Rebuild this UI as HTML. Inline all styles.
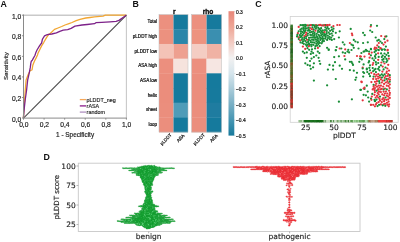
<!DOCTYPE html>
<html><head><meta charset="utf-8"><style>
html,body{margin:0;padding:0;background:#fff;}
body{width:400px;height:242px;overflow:hidden;}
svg{display:block;}
.la{font-family:"Liberation Sans",Arial,sans-serif;font-size:6.7px;fill:#222;stroke:#222;stroke-width:0.18px;}
.lg{font-family:"Liberation Sans",Arial,sans-serif;font-size:5.4px;fill:#222;stroke:#222;stroke-width:0.15px;}
.lb{font-family:"Liberation Sans",Arial,sans-serif;font-size:4.55px;fill:#111;stroke:#111;stroke-width:0.2px;}
.bt{font-family:"Liberation Sans",Arial,sans-serif;font-size:6.6px;font-weight:bold;fill:#111;stroke:#111;stroke-width:0.35px;}
.lc{font-family:"DejaVu Sans",sans-serif;font-size:7.5px;fill:#1e1e1e;stroke:#1e1e1e;stroke-width:0.15px;}
.pl{font-family:"Liberation Sans",Arial,sans-serif;font-size:8.8px;font-weight:bold;fill:#111;}
</style></head><body>
<svg width="400" height="242" viewBox="0 0 400 242">
<rect width="400" height="242" fill="#fff"/>
<line x1="23.5" y1="15.2" x2="127.0" y2="15.2" stroke="#c9c9c9" stroke-width="1.4"/>
<line x1="126.4" y1="15.2" x2="126.4" y2="118.1" stroke="#c9c9c9" stroke-width="1.1"/>
<line x1="23.5" y1="118.1" x2="126.4" y2="15.2" stroke="#4a4a4a" stroke-width="1.1"/>
<polyline fill="none" stroke="#f2a632" stroke-width="1.3" stroke-linejoin="round" points="23.4,118 24,108 24.6,100 25.3,90 26.1,80 28.2,74.6 29.5,72 30,70.6 32,70 32.8,65.3 34.4,61.2 36,58.1 37.5,55 38,53.2 40.2,48.8 41.6,45.9 43.8,42.3 46.5,37.6 48.7,34.4 50.3,33.5 54.5,29.4 58,28 61.7,26.5 65,25 69,23.6 72,22.5 76.2,20.7 80,19.4 85.8,18 90,17.5 94.5,16.9 100,16.4 103.1,16.1 105.3,15.2 126.3,15.2"/>
<polyline fill="none" stroke="#7d2289" stroke-width="1.3" stroke-linejoin="round" points="23.4,118 24.3,108 25.2,100 26.6,90 27.7,79.8 29.2,73.1 30.3,67.4 30.8,63.3 31.3,61.2 32.3,60.2 33.4,58.1 34.9,55.5 35.9,52.4 37,50 39.5,45.9 41.6,43 42.4,39.4 43.6,37.3 44.5,35.9 47.3,34.7 51.8,34 56.4,32.9 59.8,31.3 63.2,30.2 67.7,29.7 71.1,28.4 75,26.1 82,25 87.2,24.5 94.5,23.7 95.9,22.7 101.7,22.3 110,21.8 116.1,21.3 119,20.4 123.4,17.2 126.2,15.2"/>
<line x1="23.5" y1="14.5" x2="23.5" y2="118.1" stroke="#8a8a8a" stroke-width="1"/>
<line x1="23.5" y1="118.1" x2="126.9" y2="118.1" stroke="#8a8a8a" stroke-width="1"/>
<line x1="21.9" y1="118.1" x2="23.5" y2="118.1" stroke="#777" stroke-width="0.8"/>
<line x1="23.5" y1="118.1" x2="23.5" y2="119.69999999999999" stroke="#777" stroke-width="0.8"/>
<text x="21.3" y="121.5" text-anchor="end" class="la">0,0</text>
<text x="23.8" y="127.4" text-anchor="middle" class="la">0,0</text>
<line x1="21.9" y1="97.52" x2="23.5" y2="97.52" stroke="#777" stroke-width="0.8"/>
<line x1="44.08" y1="118.1" x2="44.08" y2="119.69999999999999" stroke="#777" stroke-width="0.8"/>
<text x="21.3" y="100.92" text-anchor="end" class="la">0,2</text>
<text x="44.38" y="127.4" text-anchor="middle" class="la">0,2</text>
<line x1="21.9" y1="76.94" x2="23.5" y2="76.94" stroke="#777" stroke-width="0.8"/>
<line x1="64.66" y1="118.1" x2="64.66" y2="119.69999999999999" stroke="#777" stroke-width="0.8"/>
<text x="21.3" y="80.34" text-anchor="end" class="la">0,4</text>
<text x="64.96" y="127.4" text-anchor="middle" class="la">0,4</text>
<line x1="21.9" y1="56.36" x2="23.5" y2="56.36" stroke="#777" stroke-width="0.8"/>
<line x1="85.24" y1="118.1" x2="85.24" y2="119.69999999999999" stroke="#777" stroke-width="0.8"/>
<text x="21.3" y="59.76" text-anchor="end" class="la">0,6</text>
<text x="85.54" y="127.4" text-anchor="middle" class="la">0,6</text>
<line x1="21.9" y1="35.78" x2="23.5" y2="35.78" stroke="#777" stroke-width="0.8"/>
<line x1="105.82" y1="118.1" x2="105.82" y2="119.69999999999999" stroke="#777" stroke-width="0.8"/>
<text x="21.3" y="39.18" text-anchor="end" class="la">0,8</text>
<text x="106.12" y="127.4" text-anchor="middle" class="la">0,8</text>
<line x1="21.9" y1="15.2" x2="23.5" y2="15.2" stroke="#777" stroke-width="0.8"/>
<line x1="126.4" y1="118.1" x2="126.4" y2="119.69999999999999" stroke="#777" stroke-width="0.8"/>
<text x="21.3" y="18.6" text-anchor="end" class="la">1,0</text>
<text x="126.7" y="127.4" text-anchor="middle" class="la">1,0</text>
<text x="75.1" y="137.1" text-anchor="middle" class="la" style="font-size:6.4px">1 - Specificity</text>
<text transform="translate(8.4,66.1) rotate(-90)" text-anchor="middle" class="la" style="font-size:6.2px">Sensitivity</text>
<line x1="79.8" y1="99.6" x2="86" y2="99.6" stroke="#f6a85a" stroke-width="1.3"/>
<text x="86.6" y="101.5" class="lg">pLDDT_neg</text>
<line x1="79.8" y1="105.9" x2="86" y2="105.9" stroke="#8b1a8b" stroke-width="1.3"/>
<text x="86.6" y="107.8" class="lg">rASA</text>
<line x1="79.8" y1="112.1" x2="86" y2="112.1" stroke="#b090c0" stroke-width="1.3"/>
<text x="86.6" y="114" class="lg">random</text>
<text x="0.6" y="6.6" class="pl">A</text>
<rect x="159.0" y="14.6" width="14.5" height="15.03" fill="#ec907f"/>
<rect x="191.6" y="14.6" width="15" height="15.03" fill="#ec907f"/>
<rect x="173.5" y="14.6" width="14.5" height="15.03" fill="#167a9d"/>
<rect x="206.6" y="14.6" width="15" height="15.03" fill="#167a9d"/>
<text x="157.0" y="23.14" text-anchor="end" class="lb">Total</text>
<rect x="159.0" y="29.28" width="14.5" height="15.03" fill="#ec917f"/>
<rect x="191.6" y="29.28" width="15" height="15.03" fill="#ed937f"/>
<rect x="173.5" y="29.28" width="14.5" height="15.03" fill="#2a86a9"/>
<rect x="206.6" y="29.28" width="15" height="15.03" fill="#3a8fb0"/>
<text x="157.0" y="37.82" text-anchor="end" class="lb">pLDDT high</text>
<rect x="159.0" y="43.96" width="14.5" height="15.03" fill="#f4c3b7"/>
<rect x="191.6" y="43.96" width="15" height="15.03" fill="#f4cdc3"/>
<rect x="173.5" y="43.96" width="14.5" height="15.03" fill="#eea090"/>
<rect x="206.6" y="43.96" width="15" height="15.03" fill="#f0b2a4"/>
<text x="157.0" y="52.5" text-anchor="end" class="lb">pLDDT low</text>
<rect x="159.0" y="58.64" width="14.5" height="15.03" fill="#ec8f7e"/>
<rect x="191.6" y="58.64" width="15" height="15.03" fill="#ec8f7e"/>
<rect x="173.5" y="58.64" width="14.5" height="15.03" fill="#f6e3dd"/>
<rect x="206.6" y="58.64" width="15" height="15.03" fill="#f6e6e2"/>
<text x="157.0" y="67.18" text-anchor="end" class="lb">ASA high</text>
<rect x="159.0" y="73.32" width="14.5" height="15.03" fill="#eb8d7c"/>
<rect x="191.6" y="73.32" width="15" height="15.03" fill="#eb8d7c"/>
<rect x="173.5" y="73.32" width="14.5" height="15.03" fill="#157a9d"/>
<rect x="206.6" y="73.32" width="15" height="15.03" fill="#157a9d"/>
<text x="157.0" y="81.86" text-anchor="end" class="lb">ASA low</text>
<rect x="159.0" y="88" width="14.5" height="15.03" fill="#eb8d7c"/>
<rect x="191.6" y="88" width="15" height="15.03" fill="#eb8d7c"/>
<rect x="173.5" y="88" width="14.5" height="15.03" fill="#157a9d"/>
<rect x="206.6" y="88" width="15" height="15.03" fill="#167a9d"/>
<text x="157.0" y="96.54" text-anchor="end" class="lb">helix</text>
<rect x="159.0" y="102.68" width="14.5" height="15.03" fill="#eb8e7d"/>
<rect x="191.6" y="102.68" width="15" height="15.03" fill="#eb8e7d"/>
<rect x="173.5" y="102.68" width="14.5" height="15.03" fill="#4f9cb8"/>
<rect x="206.6" y="102.68" width="15" height="15.03" fill="#1f7ca0"/>
<text x="157.0" y="111.22" text-anchor="end" class="lb">sheet</text>
<rect x="159.0" y="117.36" width="14.5" height="15.03" fill="#eb8e7d"/>
<rect x="191.6" y="117.36" width="15" height="15.03" fill="#eb8e7d"/>
<rect x="173.5" y="117.36" width="14.5" height="15.03" fill="#157a9d"/>
<rect x="206.6" y="117.36" width="15" height="15.03" fill="#157a9d"/>
<text x="157.0" y="125.9" text-anchor="end" class="lb">loop</text>
<rect x="159.0" y="14.6" width="29.0" height="117.44" fill="none" stroke="#bdbdbd" stroke-width="0.5"/>
<rect x="191.6" y="14.6" width="30.0" height="117.44" fill="none" stroke="#bdbdbd" stroke-width="0.5"/>
<text x="174.4" y="13.6" text-anchor="middle" class="bt">r</text>
<text x="208" y="13.6" text-anchor="middle" class="bt">rho</text>
<text transform="translate(166,139.4) rotate(-45)" text-anchor="middle" dy="1.4" class="lb">pLDDT</text>
<text transform="translate(180.6,138.3) rotate(-45)" text-anchor="middle" dy="1.4" class="lb">ASA</text>
<text transform="translate(199.1,139.4) rotate(-45)" text-anchor="middle" dy="1.4" class="lb">pLDDT</text>
<text transform="translate(213.9,138.3) rotate(-45)" text-anchor="middle" dy="1.4" class="lb">ASA</text>
<defs><linearGradient id="cb" x1="0" y1="0" x2="0" y2="1">
<stop offset="0" stop-color="#e8877a"/>
<stop offset="0.125" stop-color="#eea595"/>
<stop offset="0.25" stop-color="#f3cbc2"/>
<stop offset="0.375" stop-color="#f2f1f1"/>
<stop offset="0.5" stop-color="#d6e5ec"/>
<stop offset="0.625" stop-color="#a9cbd9"/>
<stop offset="0.75" stop-color="#78afc5"/>
<stop offset="0.875" stop-color="#4696b3"/>
<stop offset="1" stop-color="#17799c"/>
</linearGradient></defs>
<rect x="228.5" y="11.2" width="5.8" height="124.4" fill="url(#cb)"/>
<line x1="234.3" y1="11.6" x2="235.4" y2="11.6" stroke="#999" stroke-width="0.4"/>
<text x="236.0" y="13.6" class="lb" style="font-size:4.9px">0.3</text>
<line x1="234.3" y1="27.09" x2="235.4" y2="27.09" stroke="#999" stroke-width="0.4"/>
<text x="236.0" y="29.09" class="lb" style="font-size:4.9px">0.2</text>
<line x1="234.3" y1="42.58" x2="235.4" y2="42.58" stroke="#999" stroke-width="0.4"/>
<text x="236.0" y="44.58" class="lb" style="font-size:4.9px">0.1</text>
<line x1="234.3" y1="58.07" x2="235.4" y2="58.07" stroke="#999" stroke-width="0.4"/>
<text x="236.0" y="60.07" class="lb" style="font-size:4.9px">0.0</text>
<line x1="234.3" y1="73.56" x2="235.4" y2="73.56" stroke="#999" stroke-width="0.4"/>
<text x="236.0" y="75.56" class="lb" style="font-size:4.9px">−0.1</text>
<line x1="234.3" y1="89.05" x2="235.4" y2="89.05" stroke="#999" stroke-width="0.4"/>
<text x="236.0" y="91.05" class="lb" style="font-size:4.9px">−0.2</text>
<line x1="234.3" y1="104.54" x2="235.4" y2="104.54" stroke="#999" stroke-width="0.4"/>
<text x="236.0" y="106.54" class="lb" style="font-size:4.9px">−0.3</text>
<line x1="234.3" y1="120.03" x2="235.4" y2="120.03" stroke="#999" stroke-width="0.4"/>
<text x="236.0" y="122.03" class="lb" style="font-size:4.9px">−0.4</text>
<line x1="234.3" y1="135.52" x2="235.4" y2="135.52" stroke="#999" stroke-width="0.4"/>
<text x="236.0" y="137.52" class="lb" style="font-size:4.9px">−0.5</text>
<text x="132.6" y="6.8" class="pl">B</text>
<rect x="290.2" y="16.5" width="108" height="105.8" fill="none" stroke="#d0d0d0" stroke-width="0.8"/>
<g><circle cx="306.8" cy="52.4" r="1.12" fill="#178c35"/><circle cx="331.66" cy="33.5" r="1.12" fill="#178c35"/><circle cx="378.13" cy="53.33" r="1.12" fill="#e3333b"/><circle cx="378.2" cy="68.9" r="1.12" fill="#178c35"/><circle cx="374.26" cy="74.13" r="1.12" fill="#e3333b"/><circle cx="339.7" cy="31.3" r="1.12" fill="#178c35"/><circle cx="364.5" cy="88.9" r="1.12" fill="#178c35"/><circle cx="329.83" cy="39.15" r="1.12" fill="#178c35"/><circle cx="387.3" cy="93.5" r="1.12" fill="#e3333b"/><circle cx="303.42" cy="27.28" r="1.12" fill="#178c35"/><circle cx="387.3" cy="60.7" r="1.12" fill="#178c35"/><circle cx="328.7" cy="50" r="1.12" fill="#178c35"/><circle cx="335.8" cy="32.8" r="1.12" fill="#178c35"/><circle cx="369.63" cy="57.65" r="1.12" fill="#e3333b"/><circle cx="349.9" cy="61.8" r="1.12" fill="#178c35"/><circle cx="366.8" cy="69.4" r="1.12" fill="#178c35"/><circle cx="302.9" cy="51.6" r="1.12" fill="#178c35"/><circle cx="361.8" cy="59.4" r="1.12" fill="#178c35"/><circle cx="319.43" cy="31.79" r="1.12" fill="#178c35"/><circle cx="324.8" cy="25" r="1.12" fill="#e3333b"/><circle cx="304.5" cy="53.1" r="1.12" fill="#178c35"/><circle cx="321.93" cy="38.6" r="1.12" fill="#178c35"/><circle cx="377.03" cy="81.17" r="1.12" fill="#e3333b"/><circle cx="369.1" cy="61.2" r="1.12" fill="#178c35"/><circle cx="342.8" cy="52.4" r="1.12" fill="#178c35"/><circle cx="389.79" cy="97.96" r="1.12" fill="#e3333b"/><circle cx="376.98" cy="95.97" r="1.12" fill="#e3333b"/><circle cx="304.35" cy="36.08" r="1.12" fill="#e3333b"/><circle cx="314.87" cy="26.9" r="1.12" fill="#178c35"/><circle cx="379.02" cy="91.63" r="1.12" fill="#e3333b"/><circle cx="327.76" cy="35.7" r="1.12" fill="#178c35"/><circle cx="338.9" cy="56.3" r="1.12" fill="#178c35"/><circle cx="319.79" cy="42.95" r="1.12" fill="#178c35"/><circle cx="388.2" cy="78.9" r="1.12" fill="#e3333b"/><circle cx="374.7" cy="90.2" r="1.12" fill="#e3333b"/><circle cx="388.99" cy="70.56" r="1.12" fill="#e3333b"/><circle cx="329.58" cy="24.97" r="1.12" fill="#e3333b"/><circle cx="388.22" cy="74.02" r="1.12" fill="#e3333b"/><circle cx="302.61" cy="32.05" r="1.12" fill="#178c35"/><circle cx="381.09" cy="53.4" r="1.12" fill="#178c35"/><circle cx="307.02" cy="39.82" r="1.12" fill="#e3333b"/><circle cx="306.8" cy="28.28" r="1.12" fill="#178c35"/><circle cx="352.3" cy="63.3" r="1.12" fill="#178c35"/><circle cx="308.93" cy="43.5" r="1.12" fill="#178c35"/><circle cx="377.02" cy="86.7" r="1.12" fill="#e3333b"/><circle cx="319.4" cy="61" r="1.12" fill="#178c35"/><circle cx="386.4" cy="78.9" r="1.12" fill="#178c35"/><circle cx="305.78" cy="44.54" r="1.12" fill="#178c35"/><circle cx="349.9" cy="70.1" r="1.12" fill="#178c35"/><circle cx="385" cy="49.8" r="1.12" fill="#178c35"/><circle cx="384.61" cy="77.79" r="1.12" fill="#e3333b"/><circle cx="363.2" cy="76.6" r="1.12" fill="#178c35"/><circle cx="373.2" cy="63" r="1.12" fill="#e3333b"/><circle cx="331.21" cy="37.56" r="1.12" fill="#178c35"/><circle cx="381.4" cy="62.5" r="1.12" fill="#e3333b"/><circle cx="363.1" cy="43" r="1.12" fill="#178c35"/><circle cx="384.5" cy="63.5" r="1.12" fill="#e3333b"/><circle cx="303.61" cy="25.21" r="1.12" fill="#178c35"/><circle cx="311.89" cy="25.05" r="1.12" fill="#178c35"/><circle cx="370.2" cy="30.5" r="1.12" fill="#178c35"/><circle cx="385.9" cy="91.6" r="1.12" fill="#e3333b"/><circle cx="361.4" cy="81.6" r="1.12" fill="#e3333b"/><circle cx="389.63" cy="88.02" r="1.12" fill="#e3333b"/><circle cx="307.88" cy="33.56" r="1.12" fill="#178c35"/><circle cx="334.2" cy="57.1" r="1.12" fill="#178c35"/><circle cx="369.1" cy="73.9" r="1.12" fill="#178c35"/><circle cx="380" cy="100.7" r="1.12" fill="#e3333b"/><circle cx="364.7" cy="35.2" r="1.12" fill="#178c35"/><circle cx="306.37" cy="25.39" r="1.12" fill="#178c35"/><circle cx="301.05" cy="31.41" r="1.12" fill="#178c35"/><circle cx="386.8" cy="71.6" r="1.12" fill="#e3333b"/><circle cx="369.37" cy="67.86" r="1.12" fill="#178c35"/><circle cx="305.52" cy="30.43" r="1.12" fill="#178c35"/><circle cx="325.38" cy="27.47" r="1.12" fill="#178c35"/><circle cx="374.1" cy="60.3" r="1.12" fill="#178c35"/><circle cx="372.7" cy="64.8" r="1.12" fill="#e3333b"/><circle cx="322.68" cy="40.03" r="1.12" fill="#178c35"/><circle cx="304.82" cy="31.89" r="1.12" fill="#178c35"/><circle cx="316.31" cy="43.86" r="1.12" fill="#178c35"/><circle cx="339.7" cy="48.5" r="1.12" fill="#e3333b"/><circle cx="325.3" cy="38.6" r="1.12" fill="#178c35"/><circle cx="383.2" cy="98" r="1.12" fill="#e3333b"/><circle cx="381.8" cy="102.1" r="1.12" fill="#e3333b"/><circle cx="309.87" cy="30.6" r="1.12" fill="#178c35"/><circle cx="379.85" cy="77.35" r="1.12" fill="#e3333b"/><circle cx="302.88" cy="46.54" r="1.12" fill="#e3333b"/><circle cx="318.6" cy="57.8" r="1.12" fill="#178c35"/><circle cx="357.8" cy="42.3" r="1.12" fill="#178c35"/><circle cx="385.1" cy="42.3" r="1.12" fill="#e3333b"/><circle cx="360.4" cy="89.9" r="1.12" fill="#178c35"/><circle cx="389.94" cy="79.67" r="1.12" fill="#e3333b"/><circle cx="313.1" cy="53.1" r="1.12" fill="#178c35"/><circle cx="380.5" cy="89.4" r="1.12" fill="#e3333b"/><circle cx="333.1" cy="69.6" r="1.12" fill="#178c35"/><circle cx="301.94" cy="39.78" r="1.12" fill="#178c35"/><circle cx="311.5" cy="51.6" r="1.12" fill="#178c35"/><circle cx="386.4" cy="99.8" r="1.12" fill="#e3333b"/><circle cx="314.52" cy="42.67" r="1.12" fill="#178c35"/><circle cx="302.53" cy="34.98" r="1.12" fill="#178c35"/><circle cx="319.4" cy="53.1" r="1.12" fill="#178c35"/><circle cx="371.74" cy="52.52" r="1.12" fill="#e3333b"/><circle cx="371" cy="104.8" r="1.12" fill="#e3333b"/><circle cx="358.5" cy="48.5" r="1.12" fill="#178c35"/><circle cx="388.75" cy="106.28" r="1.12" fill="#e3333b"/><circle cx="327.97" cy="38.09" r="1.12" fill="#178c35"/><circle cx="347.5" cy="51.6" r="1.12" fill="#178c35"/><circle cx="310.34" cy="34.95" r="1.12" fill="#178c35"/><circle cx="371.4" cy="82.1" r="1.12" fill="#e3333b"/><circle cx="383.6" cy="58.9" r="1.12" fill="#178c35"/><circle cx="383.2" cy="75.7" r="1.12" fill="#178c35"/><circle cx="317.93" cy="47.97" r="1.12" fill="#e3333b"/><circle cx="368.2" cy="97.5" r="1.12" fill="#178c35"/><circle cx="316.36" cy="41.36" r="1.12" fill="#178c35"/><circle cx="331.61" cy="27.27" r="1.12" fill="#178c35"/><circle cx="330.07" cy="30.87" r="1.12" fill="#178c35"/><circle cx="386.8" cy="95.7" r="1.12" fill="#e3333b"/><circle cx="373.6" cy="84.8" r="1.12" fill="#178c35"/><circle cx="382" cy="43" r="1.12" fill="#178c35"/><circle cx="353.8" cy="47.8" r="1.12" fill="#178c35"/><circle cx="375.5" cy="58" r="1.12" fill="#178c35"/><circle cx="321.64" cy="43.29" r="1.12" fill="#178c35"/><circle cx="356.2" cy="77.5" r="1.12" fill="#178c35"/><circle cx="373.2" cy="71.2" r="1.12" fill="#178c35"/><circle cx="308.01" cy="30.69" r="1.12" fill="#178c35"/><circle cx="363.6" cy="51.6" r="1.12" fill="#178c35"/><circle cx="302.18" cy="38" r="1.12" fill="#178c35"/><circle cx="375.66" cy="97.52" r="1.12" fill="#e3333b"/><circle cx="318.57" cy="34.85" r="1.12" fill="#178c35"/><circle cx="352.3" cy="35.2" r="1.12" fill="#e3333b"/><circle cx="315.9" cy="28.66" r="1.12" fill="#178c35"/><circle cx="338.9" cy="37.5" r="1.12" fill="#178c35"/><circle cx="317.97" cy="38.77" r="1.12" fill="#178c35"/><circle cx="373.6" cy="76.6" r="1.12" fill="#178c35"/><circle cx="326.81" cy="31" r="1.12" fill="#178c35"/><circle cx="370" cy="76.2" r="1.12" fill="#178c35"/><circle cx="376.26" cy="83.72" r="1.12" fill="#e3333b"/><circle cx="353.8" cy="39.9" r="1.12" fill="#178c35"/><circle cx="385" cy="88.5" r="1.12" fill="#e3333b"/><circle cx="382.3" cy="94.4" r="1.12" fill="#e3333b"/><circle cx="376.17" cy="64.47" r="1.12" fill="#178c35"/><circle cx="333.1" cy="65.7" r="1.12" fill="#178c35"/><circle cx="388.2" cy="83" r="1.12" fill="#e3333b"/><circle cx="370" cy="65.3" r="1.12" fill="#178c35"/><circle cx="303.73" cy="30.58" r="1.12" fill="#178c35"/><circle cx="383.6" cy="91.6" r="1.12" fill="#e3333b"/><circle cx="376.8" cy="90.7" r="1.12" fill="#178c35"/><circle cx="300.86" cy="33.42" r="1.12" fill="#178c35"/><circle cx="313.9" cy="57.1" r="1.12" fill="#178c35"/><circle cx="312.46" cy="27.47" r="1.12" fill="#178c35"/><circle cx="378.6" cy="94.4" r="1.12" fill="#e3333b"/><circle cx="321.25" cy="35.22" r="1.12" fill="#178c35"/><circle cx="378.2" cy="97.5" r="1.12" fill="#e3333b"/><circle cx="366.8" cy="68.5" r="1.12" fill="#178c35"/><circle cx="379.5" cy="87.5" r="1.12" fill="#e3333b"/><circle cx="361.4" cy="53" r="1.12" fill="#178c35"/><circle cx="359.3" cy="61.8" r="1.12" fill="#178c35"/><circle cx="376.54" cy="99.59" r="1.12" fill="#178c35"/><circle cx="308.16" cy="41.89" r="1.12" fill="#178c35"/><circle cx="378.05" cy="76.53" r="1.12" fill="#e3333b"/><circle cx="335.8" cy="79" r="1.12" fill="#178c35"/><circle cx="360.1" cy="56.3" r="1.12" fill="#e3333b"/><circle cx="375.9" cy="54.4" r="1.12" fill="#178c35"/><circle cx="328.79" cy="28.76" r="1.12" fill="#178c35"/><circle cx="335.8" cy="50.3" r="1.12" fill="#178c35"/><circle cx="389.8" cy="77.37" r="1.12" fill="#e3333b"/><circle cx="360.9" cy="56.6" r="1.12" fill="#e3333b"/><circle cx="388.71" cy="55.95" r="1.12" fill="#178c35"/><circle cx="348.3" cy="49.8" r="1.12" fill="#178c35"/><circle cx="384.99" cy="56.9" r="1.12" fill="#178c35"/><circle cx="327.1" cy="39.9" r="1.12" fill="#178c35"/><circle cx="383.6" cy="89.4" r="1.12" fill="#178c35"/><circle cx="298.61" cy="37.4" r="1.12" fill="#e3333b"/><circle cx="305.3" cy="63.3" r="1.12" fill="#178c35"/><circle cx="311.41" cy="46.34" r="1.12" fill="#178c35"/><circle cx="365.9" cy="95.3" r="1.12" fill="#178c35"/><circle cx="318.14" cy="30.35" r="1.12" fill="#178c35"/><circle cx="305.22" cy="48.93" r="1.12" fill="#e3333b"/><circle cx="349.1" cy="52.4" r="1.12" fill="#178c35"/><circle cx="384.5" cy="53.5" r="1.12" fill="#178c35"/><circle cx="382.4" cy="71.62" r="1.12" fill="#e3333b"/><circle cx="345.2" cy="49.3" r="1.12" fill="#e3333b"/><circle cx="389.85" cy="92.98" r="1.12" fill="#e3333b"/><circle cx="315.94" cy="39.54" r="1.12" fill="#178c35"/><circle cx="362.7" cy="100.3" r="1.12" fill="#e3333b"/><circle cx="327.1" cy="85.3" r="1.12" fill="#178c35"/><circle cx="380.9" cy="79.4" r="1.12" fill="#e3333b"/><circle cx="315.81" cy="37.74" r="1.12" fill="#178c35"/><circle cx="384.1" cy="83.9" r="1.12" fill="#e3333b"/><circle cx="388.84" cy="58.7" r="1.12" fill="#e3333b"/><circle cx="374.5" cy="69.8" r="1.12" fill="#178c35"/><circle cx="374.5" cy="52.1" r="1.12" fill="#178c35"/><circle cx="321.7" cy="31.61" r="1.12" fill="#178c35"/><circle cx="383.6" cy="104.4" r="1.12" fill="#e3333b"/><circle cx="350.7" cy="28.9" r="1.12" fill="#178c35"/><circle cx="378.2" cy="89.4" r="1.12" fill="#e3333b"/><circle cx="342" cy="68.8" r="1.12" fill="#178c35"/><circle cx="325.73" cy="36.9" r="1.12" fill="#178c35"/><circle cx="380.4" cy="41.5" r="1.12" fill="#178c35"/><circle cx="302.15" cy="25.2" r="1.12" fill="#178c35"/><circle cx="325.5" cy="25.14" r="1.12" fill="#178c35"/><circle cx="297.84" cy="33.13" r="1.12" fill="#e3333b"/><circle cx="375.7" cy="50.4" r="1.12" fill="#178c35"/><circle cx="374.5" cy="99.8" r="1.12" fill="#178c35"/><circle cx="381.8" cy="88.9" r="1.12" fill="#e3333b"/><circle cx="314.64" cy="34.49" r="1.12" fill="#178c35"/><circle cx="385.1" cy="36.7" r="1.12" fill="#e3333b"/><circle cx="306.09" cy="38.3" r="1.12" fill="#178c35"/><circle cx="307.82" cy="44.67" r="1.12" fill="#178c35"/><circle cx="389.76" cy="75.22" r="1.12" fill="#178c35"/><circle cx="298.79" cy="39.03" r="1.12" fill="#178c35"/><circle cx="318.38" cy="44.09" r="1.12" fill="#178c35"/><circle cx="381.8" cy="49.4" r="1.12" fill="#178c35"/><circle cx="388.2" cy="64.8" r="1.12" fill="#e3333b"/><circle cx="378.82" cy="85.53" r="1.12" fill="#e3333b"/><circle cx="378.8" cy="47" r="1.12" fill="#178c35"/><circle cx="323.64" cy="38.66" r="1.12" fill="#178c35"/><circle cx="351.5" cy="50" r="1.12" fill="#178c35"/><circle cx="323.95" cy="41.06" r="1.12" fill="#178c35"/><circle cx="370.9" cy="104.8" r="1.12" fill="#e3333b"/><circle cx="360.1" cy="58.6" r="1.12" fill="#178c35"/><circle cx="297.04" cy="36.43" r="1.12" fill="#178c35"/><circle cx="303.39" cy="28.95" r="1.12" fill="#178c35"/><circle cx="320.12" cy="37.91" r="1.12" fill="#178c35"/><circle cx="308.79" cy="29.25" r="1.12" fill="#178c35"/><circle cx="387.41" cy="81.24" r="1.12" fill="#e3333b"/><circle cx="317.75" cy="40.45" r="1.12" fill="#178c35"/><circle cx="369.1" cy="53.9" r="1.12" fill="#e3333b"/><circle cx="387.7" cy="49.8" r="1.12" fill="#e3333b"/><circle cx="385" cy="103.9" r="1.12" fill="#e3333b"/><circle cx="364.5" cy="87.5" r="1.12" fill="#e3333b"/><circle cx="313.74" cy="29.33" r="1.12" fill="#178c35"/><circle cx="378.2" cy="78.5" r="1.12" fill="#e3333b"/><circle cx="309.16" cy="49.77" r="1.12" fill="#178c35"/><circle cx="386.4" cy="62.1" r="1.12" fill="#178c35"/><circle cx="314.15" cy="37.81" r="1.12" fill="#178c35"/><circle cx="306.77" cy="45.92" r="1.12" fill="#178c35"/><circle cx="355.4" cy="41.5" r="1.12" fill="#178c35"/><circle cx="323.02" cy="25.41" r="1.12" fill="#178c35"/><circle cx="323.05" cy="32.66" r="1.12" fill="#178c35"/><circle cx="316.46" cy="36" r="1.12" fill="#178c35"/><circle cx="311.93" cy="29.21" r="1.12" fill="#e3333b"/><circle cx="363.1" cy="32.8" r="1.12" fill="#178c35"/><circle cx="337.3" cy="25" r="1.12" fill="#e3333b"/><circle cx="304.08" cy="39.8" r="1.12" fill="#178c35"/><circle cx="298.67" cy="31.26" r="1.12" fill="#178c35"/><circle cx="312.85" cy="33.74" r="1.12" fill="#178c35"/><circle cx="378.8" cy="43" r="1.12" fill="#e3333b"/><circle cx="307.88" cy="25.49" r="1.12" fill="#e3333b"/><circle cx="375.92" cy="72.12" r="1.12" fill="#178c35"/><circle cx="386.4" cy="73" r="1.12" fill="#e3333b"/><circle cx="304.26" cy="37.99" r="1.12" fill="#178c35"/><circle cx="371" cy="98.5" r="1.12" fill="#178c35"/><circle cx="351.9" cy="99.3" r="1.12" fill="#178c35"/><circle cx="385.9" cy="46.6" r="1.12" fill="#178c35"/><circle cx="322.31" cy="41.79" r="1.12" fill="#178c35"/><circle cx="325.05" cy="30.09" r="1.12" fill="#178c35"/><circle cx="372.47" cy="58.45" r="1.12" fill="#178c35"/><circle cx="316.3" cy="55.5" r="1.12" fill="#178c35"/><circle cx="300.06" cy="40.34" r="1.12" fill="#e3333b"/><circle cx="364.1" cy="73" r="1.12" fill="#178c35"/><circle cx="388.2" cy="99.4" r="1.12" fill="#e3333b"/><circle cx="380.9" cy="48.5" r="1.12" fill="#e3333b"/><circle cx="372.3" cy="93.9" r="1.12" fill="#178c35"/><circle cx="345.2" cy="59.4" r="1.12" fill="#178c35"/><circle cx="388.2" cy="96.6" r="1.12" fill="#e3333b"/><circle cx="380.4" cy="48.2" r="1.12" fill="#e3333b"/><circle cx="384.1" cy="101.2" r="1.12" fill="#e3333b"/><circle cx="385.5" cy="67.5" r="1.12" fill="#178c35"/><circle cx="382.3" cy="99.4" r="1.12" fill="#e3333b"/><circle cx="320.71" cy="30.32" r="1.12" fill="#178c35"/><circle cx="375.56" cy="76.56" r="1.12" fill="#e3333b"/><circle cx="376.5" cy="48.2" r="1.12" fill="#e3333b"/><circle cx="377.52" cy="106.01" r="1.12" fill="#178c35"/><circle cx="375.9" cy="50.7" r="1.12" fill="#178c35"/><circle cx="335" cy="62.2" r="1.12" fill="#178c35"/><circle cx="351.5" cy="44.6" r="1.12" fill="#178c35"/><circle cx="378.2" cy="63" r="1.12" fill="#178c35"/><circle cx="383.6" cy="61.6" r="1.12" fill="#178c35"/><circle cx="387.74" cy="75.91" r="1.12" fill="#e3333b"/><circle cx="368.6" cy="62.5" r="1.12" fill="#178c35"/><circle cx="387.5" cy="40.7" r="1.12" fill="#e3333b"/><circle cx="322.42" cy="36.96" r="1.12" fill="#178c35"/><circle cx="379.1" cy="67.1" r="1.12" fill="#178c35"/><circle cx="316.65" cy="33.76" r="1.12" fill="#178c35"/><circle cx="324.12" cy="25.45" r="1.12" fill="#e3333b"/><circle cx="372.71" cy="68.06" r="1.12" fill="#178c35"/><circle cx="344.4" cy="44.6" r="1.12" fill="#178c35"/><circle cx="325.82" cy="34.99" r="1.12" fill="#178c35"/><circle cx="353" cy="64.9" r="1.12" fill="#178c35"/><circle cx="374.9" cy="100.9" r="1.12" fill="#178c35"/><circle cx="367" cy="50.9" r="1.12" fill="#178c35"/><circle cx="299.91" cy="35.16" r="1.12" fill="#178c35"/><circle cx="306.2" cy="32.87" r="1.12" fill="#e3333b"/><circle cx="364.7" cy="51.3" r="1.12" fill="#178c35"/><circle cx="315.39" cy="46.06" r="1.12" fill="#178c35"/><circle cx="369.1" cy="101.6" r="1.12" fill="#178c35"/><circle cx="377.3" cy="45.4" r="1.12" fill="#e3333b"/><circle cx="313.01" cy="25.16" r="1.12" fill="#178c35"/><circle cx="298.7" cy="26.91" r="1.12" fill="#e3333b"/><circle cx="384.3" cy="49.3" r="1.12" fill="#178c35"/><circle cx="310.93" cy="37.51" r="1.12" fill="#178c35"/><circle cx="374.9" cy="47.7" r="1.12" fill="#e3333b"/><circle cx="386.8" cy="89.4" r="1.12" fill="#178c35"/><circle cx="378.2" cy="89.4" r="1.12" fill="#e3333b"/><circle cx="311.5" cy="58.6" r="1.12" fill="#178c35"/><circle cx="370.7" cy="26.5" r="1.12" fill="#e3333b"/><circle cx="333.47" cy="28.66" r="1.12" fill="#178c35"/><circle cx="367.7" cy="91.6" r="1.12" fill="#178c35"/><circle cx="327.55" cy="27.03" r="1.12" fill="#178c35"/><circle cx="339.7" cy="65.7" r="1.12" fill="#178c35"/><circle cx="382" cy="49.8" r="1.12" fill="#178c35"/><circle cx="329.82" cy="34.08" r="1.12" fill="#178c35"/><circle cx="349.9" cy="43" r="1.12" fill="#e3333b"/><circle cx="319.59" cy="46.15" r="1.12" fill="#178c35"/><circle cx="314.01" cy="35.97" r="1.12" fill="#178c35"/><circle cx="312" cy="35.11" r="1.12" fill="#178c35"/><circle cx="378.8" cy="50.1" r="1.12" fill="#178c35"/><circle cx="375.5" cy="68.9" r="1.12" fill="#178c35"/><circle cx="316.02" cy="25.17" r="1.12" fill="#e3333b"/><circle cx="380.9" cy="104.4" r="1.12" fill="#e3333b"/><circle cx="384.5" cy="80.3" r="1.12" fill="#178c35"/><circle cx="374.5" cy="48.9" r="1.12" fill="#e3333b"/><circle cx="371" cy="25" r="1.12" fill="#178c35"/><circle cx="310.8" cy="53.9" r="1.12" fill="#178c35"/><circle cx="389.51" cy="94.95" r="1.12" fill="#e3333b"/><circle cx="317.84" cy="32.03" r="1.12" fill="#178c35"/><circle cx="321.68" cy="25.41" r="1.12" fill="#e3333b"/><circle cx="388.6" cy="86.2" r="1.12" fill="#e3333b"/><circle cx="305.17" cy="28.72" r="1.12" fill="#178c35"/><circle cx="300.5" cy="25.24" r="1.12" fill="#178c35"/><circle cx="328.65" cy="32.56" r="1.12" fill="#178c35"/><circle cx="320.31" cy="39.94" r="1.12" fill="#178c35"/><circle cx="375.85" cy="62.06" r="1.12" fill="#178c35"/><circle cx="326.62" cy="33.15" r="1.12" fill="#178c35"/><circle cx="307.65" cy="35.39" r="1.12" fill="#178c35"/><circle cx="297.4" cy="34.82" r="1.12" fill="#178c35"/><circle cx="385.5" cy="97.5" r="1.12" fill="#178c35"/><circle cx="365.9" cy="49.8" r="1.12" fill="#178c35"/><circle cx="384.3" cy="39.1" r="1.12" fill="#178c35"/><circle cx="382.7" cy="66.6" r="1.12" fill="#e3333b"/><circle cx="383.2" cy="86.6" r="1.12" fill="#e3333b"/><circle cx="370" cy="70.3" r="1.12" fill="#178c35"/><circle cx="307.49" cy="48.17" r="1.12" fill="#178c35"/><circle cx="324.53" cy="32" r="1.12" fill="#e3333b"/><circle cx="369.1" cy="51.6" r="1.12" fill="#178c35"/><circle cx="373.2" cy="104.8" r="1.12" fill="#e3333b"/><circle cx="386.4" cy="58.9" r="1.12" fill="#178c35"/><circle cx="309.56" cy="25.27" r="1.12" fill="#178c35"/><circle cx="378.2" cy="59.8" r="1.12" fill="#e3333b"/><circle cx="375" cy="101.2" r="1.12" fill="#178c35"/><circle cx="384.1" cy="95.3" r="1.12" fill="#e3333b"/><circle cx="378.69" cy="56.89" r="1.12" fill="#178c35"/><circle cx="327.9" cy="69.6" r="1.12" fill="#178c35"/><circle cx="388.6" cy="101.6" r="1.12" fill="#e3333b"/><circle cx="310.37" cy="40.5" r="1.12" fill="#178c35"/><circle cx="303.05" cy="41.27" r="1.12" fill="#178c35"/><circle cx="353" cy="45.4" r="1.12" fill="#178c35"/><circle cx="389.1" cy="90.7" r="1.12" fill="#e3333b"/><circle cx="329.4" cy="36.81" r="1.12" fill="#178c35"/><circle cx="313.1" cy="67.3" r="1.12" fill="#178c35"/><circle cx="362.7" cy="67.5" r="1.12" fill="#e3333b"/><circle cx="375" cy="88" r="1.12" fill="#e3333b"/><circle cx="318.85" cy="41.63" r="1.12" fill="#178c35"/><circle cx="333.4" cy="26.2" r="1.12" fill="#e3333b"/><circle cx="377.7" cy="93" r="1.12" fill="#e3333b"/><circle cx="308.83" cy="39.95" r="1.12" fill="#178c35"/><circle cx="310.03" cy="28.11" r="1.12" fill="#e3333b"/><circle cx="313.9" cy="80.6" r="1.12" fill="#178c35"/><circle cx="367.3" cy="72.1" r="1.12" fill="#178c35"/><circle cx="335.8" cy="50.1" r="1.12" fill="#178c35"/><circle cx="351.9" cy="33.6" r="1.12" fill="#e3333b"/><circle cx="379.5" cy="98.9" r="1.12" fill="#e3333b"/><circle cx="324.07" cy="35.73" r="1.12" fill="#178c35"/><circle cx="318.89" cy="25.09" r="1.12" fill="#e3333b"/><circle cx="373.2" cy="78.9" r="1.12" fill="#e3333b"/><circle cx="331.8" cy="39.9" r="1.12" fill="#178c35"/><circle cx="320.2" cy="63.8" r="1.12" fill="#178c35"/><circle cx="377.3" cy="40.7" r="1.12" fill="#178c35"/><circle cx="339.7" cy="25" r="1.12" fill="#e3333b"/><circle cx="312.93" cy="42.35" r="1.12" fill="#178c35"/><circle cx="361.7" cy="82.2" r="1.12" fill="#e3333b"/><circle cx="380" cy="75.3" r="1.12" fill="#178c35"/><circle cx="300.36" cy="29.7" r="1.12" fill="#178c35"/><circle cx="381.8" cy="57.1" r="1.12" fill="#178c35"/><circle cx="367.8" cy="42.3" r="1.12" fill="#178c35"/><circle cx="312.61" cy="37.32" r="1.12" fill="#178c35"/><circle cx="384.92" cy="93.5" r="1.12" fill="#e3333b"/><circle cx="385.73" cy="76.17" r="1.12" fill="#e3333b"/><circle cx="301.48" cy="36.18" r="1.12" fill="#178c35"/><circle cx="387.3" cy="104.8" r="1.12" fill="#e3333b"/><circle cx="386.4" cy="54.8" r="1.12" fill="#178c35"/><circle cx="374.9" cy="92.22" r="1.12" fill="#e3333b"/><circle cx="320.91" cy="33.04" r="1.12" fill="#178c35"/><circle cx="380.9" cy="65.3" r="1.12" fill="#178c35"/><circle cx="373.6" cy="86.6" r="1.12" fill="#e3333b"/><circle cx="319.67" cy="36.06" r="1.12" fill="#178c35"/><circle cx="379.5" cy="83" r="1.12" fill="#178c35"/><circle cx="344.4" cy="56" r="1.12" fill="#e3333b"/><circle cx="381.8" cy="74.4" r="1.12" fill="#178c35"/><circle cx="379.5" cy="70.3" r="1.12" fill="#178c35"/><circle cx="327.1" cy="25" r="1.12" fill="#e3333b"/><circle cx="322.86" cy="30.43" r="1.12" fill="#178c35"/><circle cx="300.53" cy="42.44" r="1.12" fill="#178c35"/><circle cx="300.22" cy="37.17" r="1.12" fill="#178c35"/><circle cx="387.3" cy="68.5" r="1.12" fill="#e3333b"/><circle cx="341.3" cy="48.5" r="1.12" fill="#178c35"/><circle cx="382.7" cy="105.3" r="1.12" fill="#178c35"/><circle cx="328.7" cy="49.3" r="1.12" fill="#178c35"/><circle cx="332.5" cy="35.6" r="1.12" fill="#178c35"/><circle cx="314.49" cy="32.81" r="1.12" fill="#178c35"/><circle cx="384.62" cy="74.25" r="1.12" fill="#178c35"/><circle cx="371" cy="49.3" r="1.12" fill="#178c35"/><circle cx="381.2" cy="36" r="1.12" fill="#e3333b"/><circle cx="372.7" cy="89.4" r="1.12" fill="#e3333b"/><circle cx="364.5" cy="56.6" r="1.12" fill="#e3333b"/><circle cx="310" cy="61" r="1.12" fill="#178c35"/><circle cx="315.44" cy="30.75" r="1.12" fill="#e3333b"/><circle cx="363.6" cy="88.5" r="1.12" fill="#e3333b"/><circle cx="317.8" cy="51.6" r="1.12" fill="#178c35"/><circle cx="305.08" cy="24.96" r="1.12" fill="#178c35"/><circle cx="360.9" cy="89.8" r="1.12" fill="#178c35"/><circle cx="302.37" cy="42.89" r="1.12" fill="#178c35"/><circle cx="378.26" cy="74.12" r="1.12" fill="#e3333b"/><circle cx="308.45" cy="27.58" r="1.12" fill="#178c35"/><circle cx="315.1" cy="48.49" r="1.12" fill="#178c35"/><circle cx="317.61" cy="42.67" r="1.12" fill="#178c35"/><circle cx="301.68" cy="28.73" r="1.12" fill="#178c35"/><circle cx="381.87" cy="77.53" r="1.12" fill="#178c35"/><circle cx="388.07" cy="52.95" r="1.12" fill="#178c35"/><circle cx="386.95" cy="102.86" r="1.12" fill="#e3333b"/><circle cx="317.65" cy="37.19" r="1.12" fill="#178c35"/><circle cx="326.75" cy="28.87" r="1.12" fill="#178c35"/><circle cx="303.77" cy="43.85" r="1.12" fill="#178c35"/><circle cx="383.5" cy="44.6" r="1.12" fill="#e3333b"/><circle cx="353.8" cy="70.7" r="1.12" fill="#178c35"/><circle cx="313.76" cy="39.94" r="1.12" fill="#178c35"/><circle cx="329.5" cy="64.9" r="1.12" fill="#178c35"/><circle cx="374.98" cy="81.77" r="1.12" fill="#e3333b"/><circle cx="309.97" cy="32.42" r="1.12" fill="#178c35"/><circle cx="312.02" cy="49.27" r="1.12" fill="#178c35"/><circle cx="310.8" cy="68.8" r="1.12" fill="#178c35"/><circle cx="363.2" cy="72.1" r="1.12" fill="#178c35"/><circle cx="336.6" cy="47" r="1.12" fill="#178c35"/><circle cx="324.37" cy="34.06" r="1.12" fill="#178c35"/><circle cx="342.8" cy="42.3" r="1.12" fill="#178c35"/><circle cx="375.9" cy="104.4" r="1.12" fill="#e3333b"/><circle cx="376.4" cy="74.8" r="1.12" fill="#e3333b"/><circle cx="313.34" cy="44.83" r="1.12" fill="#178c35"/><circle cx="371.4" cy="99.8" r="1.12" fill="#e3333b"/><circle cx="386.8" cy="85.7" r="1.12" fill="#e3333b"/><circle cx="306.8" cy="57.8" r="1.12" fill="#178c35"/><circle cx="312.13" cy="39.71" r="1.12" fill="#178c35"/><circle cx="363.6" cy="94.8" r="1.12" fill="#178c35"/><circle cx="333.01" cy="31.36" r="1.12" fill="#178c35"/><circle cx="313.37" cy="31.32" r="1.12" fill="#178c35"/><circle cx="327.1" cy="47.8" r="1.12" fill="#178c35"/><circle cx="384.5" cy="99.4" r="1.12" fill="#e3333b"/><circle cx="387.5" cy="50.4" r="1.12" fill="#e3333b"/><circle cx="379.1" cy="104.8" r="1.12" fill="#178c35"/><circle cx="379.1" cy="81.2" r="1.12" fill="#178c35"/><circle cx="363.6" cy="64.4" r="1.12" fill="#178c35"/><circle cx="381.8" cy="82.5" r="1.12" fill="#e3333b"/><circle cx="370.9" cy="48.9" r="1.12" fill="#178c35"/><circle cx="334.2" cy="39.1" r="1.12" fill="#178c35"/><circle cx="370.9" cy="55.3" r="1.12" fill="#178c35"/><circle cx="372.2" cy="32" r="1.12" fill="#178c35"/><circle cx="357" cy="72.8" r="1.12" fill="#178c35"/><circle cx="383.6" cy="69.4" r="1.12" fill="#178c35"/><circle cx="386.4" cy="36.3" r="1.12" fill="#178c35"/><circle cx="366.8" cy="85.7" r="1.12" fill="#178c35"/><circle cx="308.93" cy="46.21" r="1.12" fill="#e3333b"/><circle cx="306.13" cy="36.54" r="1.12" fill="#178c35"/><circle cx="380" cy="96.6" r="1.12" fill="#178c35"/><circle cx="305.18" cy="26.8" r="1.12" fill="#178c35"/><circle cx="385.9" cy="82.5" r="1.12" fill="#e3333b"/><circle cx="374.94" cy="106.28" r="1.12" fill="#e3333b"/><circle cx="382.7" cy="80.7" r="1.12" fill="#e3333b"/><circle cx="311.82" cy="31.89" r="1.12" fill="#178c35"/><circle cx="380.9" cy="92.1" r="1.12" fill="#e3333b"/><circle cx="373.6" cy="88.5" r="1.12" fill="#e3333b"/><circle cx="331.9" cy="29.76" r="1.12" fill="#178c35"/><circle cx="309.9" cy="44.79" r="1.12" fill="#178c35"/><circle cx="321.1" cy="28.14" r="1.12" fill="#178c35"/><circle cx="380.9" cy="85.7" r="1.12" fill="#e3333b"/><circle cx="305.98" cy="34.76" r="1.12" fill="#e3333b"/><circle cx="355.4" cy="79.8" r="1.12" fill="#178c35"/><circle cx="345.2" cy="53.1" r="1.12" fill="#178c35"/><circle cx="318.33" cy="27.98" r="1.12" fill="#178c35"/><circle cx="319.54" cy="29.14" r="1.12" fill="#178c35"/><circle cx="362.7" cy="68.5" r="1.12" fill="#178c35"/><circle cx="317.28" cy="25.5" r="1.12" fill="#178c35"/><circle cx="389.8" cy="84.4" r="1.12" fill="#e3333b"/><circle cx="307.6" cy="64.9" r="1.12" fill="#178c35"/><circle cx="317.03" cy="45.67" r="1.12" fill="#178c35"/><circle cx="375" cy="56.2" r="1.12" fill="#178c35"/><circle cx="378.8" cy="39.9" r="1.12" fill="#178c35"/><circle cx="378.2" cy="49.8" r="1.12" fill="#178c35"/><circle cx="371.8" cy="96.6" r="1.12" fill="#e3333b"/><circle cx="351.5" cy="61.8" r="1.12" fill="#178c35"/><circle cx="376.11" cy="79.04" r="1.12" fill="#e3333b"/><circle cx="327.9" cy="25.1" r="1.12" fill="#e3333b"/><circle cx="375.7" cy="37.5" r="1.12" fill="#178c35"/><circle cx="389.69" cy="81.71" r="1.12" fill="#178c35"/><circle cx="316.52" cy="27" r="1.12" fill="#178c35"/><circle cx="306.65" cy="42.51" r="1.12" fill="#178c35"/><circle cx="382.7" cy="55.7" r="1.12" fill="#178c35"/><circle cx="378.6" cy="102.1" r="1.12" fill="#e3333b"/><circle cx="310.95" cy="42.21" r="1.12" fill="#178c35"/><circle cx="313.9" cy="63.3" r="1.12" fill="#178c35"/><circle cx="310.76" cy="25.22" r="1.12" fill="#e3333b"/><circle cx="326.64" cy="25.37" r="1.12" fill="#e3333b"/><circle cx="375.41" cy="85.48" r="1.12" fill="#e3333b"/><circle cx="314.62" cy="25.28" r="1.12" fill="#178c35"/><circle cx="311.67" cy="44.68" r="1.12" fill="#178c35"/><circle cx="305.33" cy="41.08" r="1.12" fill="#178c35"/><circle cx="377" cy="25.8" r="1.12" fill="#178c35"/><circle cx="357" cy="56" r="1.12" fill="#e3333b"/><circle cx="371.37" cy="72.87" r="1.12" fill="#e3333b"/><circle cx="320.12" cy="24.94" r="1.12" fill="#e3333b"/><circle cx="385.29" cy="105.81" r="1.12" fill="#178c35"/><circle cx="310" cy="65.7" r="1.12" fill="#178c35"/><circle cx="389.1" cy="104.4" r="1.12" fill="#e3333b"/><circle cx="374.5" cy="94.8" r="1.12" fill="#e3333b"/><circle cx="376.8" cy="103" r="1.12" fill="#e3333b"/><circle cx="322.55" cy="34.26" r="1.12" fill="#178c35"/><circle cx="382.3" cy="59.8" r="1.12" fill="#178c35"/><circle cx="303.73" cy="33.49" r="1.12" fill="#178c35"/><circle cx="338.9" cy="101.7" r="1.12" fill="#178c35"/><circle cx="309.04" cy="37.83" r="1.12" fill="#178c35"/></g>
<rect x="290.4" y="24.6" width="2.5" height="2.19" fill="#3a7a30"/><rect x="290.4" y="26.09" width="2.5" height="1.6" fill="#2e7a2e"/><rect x="290.4" y="26.99" width="2.5" height="1.68" fill="#4a7028"/><rect x="290.4" y="27.97" width="2.5" height="1.37" fill="#3a6a25"/><rect x="290.4" y="28.63" width="2.5" height="2.15" fill="#24601e"/><rect x="290.4" y="30.08" width="2.5" height="2.13" fill="#556a20"/><rect x="290.4" y="31.51" width="2.5" height="1.8" fill="#24601e"/><rect x="290.4" y="32.61" width="2.5" height="1.46" fill="#2a5a22"/><rect x="290.4" y="33.37" width="2.5" height="1.87" fill="#2a5a22"/><rect x="290.4" y="34.55" width="2.5" height="1.66" fill="#2e7a2e"/><rect x="290.4" y="35.51" width="2.5" height="2.02" fill="#24601e"/><rect x="290.4" y="36.83" width="2.5" height="2.19" fill="#556a20"/><rect x="290.4" y="38.32" width="2.5" height="1.39" fill="#2a5a22"/><rect x="290.4" y="39.01" width="2.5" height="1.63" fill="#2e7a2e"/><rect x="290.4" y="39.94" width="2.5" height="1.74" fill="#3a7a30"/><rect x="290.4" y="40.98" width="2.5" height="1.74" fill="#556a20"/><rect x="290.4" y="42.01" width="2.5" height="2.08" fill="#556a20"/><rect x="290.4" y="43.39" width="2.5" height="2.03" fill="#24601e"/><rect x="290.4" y="44.72" width="2.5" height="2.26" fill="#3a6a25"/><rect x="290.4" y="46.28" width="2.5" height="2.23" fill="#3a7a30"/><rect x="290.4" y="47.81" width="2.5" height="2.11" fill="#3a6a25"/><rect x="290.4" y="49.22" width="2.5" height="2.18" fill="#24601e"/><rect x="290.4" y="50.7" width="2.5" height="2.04" fill="#24601e"/><rect x="290.4" y="52.04" width="2.5" height="1.87" fill="#24601e"/><rect x="290.4" y="53.22" width="2.5" height="2.03" fill="#3a7a30"/><rect x="290.4" y="54.55" width="2.5" height="1.96" fill="#3a6a25"/><rect x="290.4" y="55.82" width="2.5" height="2.24" fill="#3a6a25"/><rect x="290.4" y="57.36" width="2.5" height="2.24" fill="#3a7a30"/><rect x="290.4" y="58.89" width="2.5" height="2.26" fill="#4a7028"/><rect x="290.4" y="60.45" width="2.5" height="1.32" fill="#2a5a22"/><rect x="290.4" y="61.07" width="2.5" height="1.62" fill="#3a6a25"/><rect x="290.4" y="62" width="2.5" height="1.64" fill="#6a6a30"/><rect x="290.4" y="62.94" width="2.5" height="1.55" fill="#7a5025"/><rect x="290.4" y="63.79" width="2.5" height="1.7" fill="#7a5025"/><rect x="290.4" y="64.79" width="2.5" height="1.38" fill="#6a6a30"/><rect x="290.4" y="65.48" width="2.5" height="1.36" fill="#6a6a30"/><rect x="290.4" y="66.14" width="2.5" height="1.95" fill="#6a6a30"/><rect x="290.4" y="67.39" width="2.5" height="1.8" fill="#5a6a2a"/><rect x="290.4" y="68.49" width="2.5" height="2.23" fill="#5a6a2a"/><rect x="290.4" y="70.02" width="2.5" height="1.51" fill="#5a6a2a"/><rect x="290.4" y="70.83" width="2.5" height="1.87" fill="#5a6a2a"/><rect x="290.4" y="72" width="2.5" height="1.68" fill="#4a6a28"/><rect x="290.4" y="72.98" width="2.5" height="1.64" fill="#4a6a28"/><rect x="290.4" y="73.92" width="2.5" height="1.65" fill="#5a6020"/><rect x="290.4" y="74.87" width="2.5" height="1.94" fill="#6a5a22"/><rect x="290.4" y="76.11" width="2.5" height="1.89" fill="#7a5025"/><rect x="290.4" y="77.3" width="2.5" height="2.27" fill="#5a6a2a"/><rect x="290.4" y="78.87" width="2.5" height="1.36" fill="#5a6020"/><rect x="290.4" y="79.54" width="2.5" height="2.3" fill="#7a5025"/><rect x="290.4" y="81.13" width="2.5" height="1.34" fill="#5a6a2a"/><rect x="290.4" y="81.78" width="2.5" height="1.41" fill="#4a6a28"/><rect x="290.4" y="82.48" width="2.5" height="1.58" fill="#cc3328"/><rect x="290.4" y="83.36" width="2.5" height="2.12" fill="#c0302a"/><rect x="290.4" y="84.78" width="2.5" height="2.23" fill="#9a3a25"/><rect x="290.4" y="86.32" width="2.5" height="1.98" fill="#b0352a"/><rect x="290.4" y="87.6" width="2.5" height="2.11" fill="#803a25"/><rect x="290.4" y="89" width="2.5" height="1.76" fill="#c0302a"/><rect x="290.4" y="90.06" width="2.5" height="1.67" fill="#8a4028"/><rect x="290.4" y="91.03" width="2.5" height="1.89" fill="#803a25"/><rect x="290.4" y="92.22" width="2.5" height="1.33" fill="#8a4028"/><rect x="290.4" y="92.86" width="2.5" height="2.1" fill="#803a25"/><rect x="290.4" y="94.26" width="2.5" height="1.85" fill="#803a25"/><rect x="290.4" y="95.41" width="2.5" height="1.5" fill="#803a25"/><rect x="290.4" y="96.21" width="2.5" height="1.89" fill="#9a3a25"/><rect x="290.4" y="97.4" width="2.5" height="2.25" fill="#803a25"/><rect x="290.4" y="98.95" width="2.5" height="1.75" fill="#b0352a"/><rect x="290.4" y="100" width="2.5" height="1.44" fill="#c0302a"/><rect x="290.4" y="100.74" width="2.5" height="2.29" fill="#c0302a"/><rect x="290.4" y="102.34" width="2.5" height="1.64" fill="#b0352a"/><rect x="290.4" y="103.28" width="2.5" height="1.32" fill="#803a25"/><rect x="290.4" y="103.9" width="2.5" height="1.88" fill="#8a4028"/><rect x="290.4" y="105.08" width="2.5" height="1.96" fill="#c0302a"/><rect x="290.4" y="106.34" width="2.5" height="1.99" fill="#b0352a"/>
<rect x="298.5" y="120.0" width="1.65" height="2.3" fill="#8ab880"/><rect x="299.45" y="120.0" width="1.56" height="2.3" fill="#a8c8a0"/><rect x="300.31" y="120.0" width="2.32" height="2.3" fill="#8ab880"/><rect x="301.93" y="120.0" width="2.39" height="2.3" fill="#c8dcc0"/><rect x="303.62" y="120.0" width="2.02" height="2.3" fill="#1c7220"/><rect x="304.94" y="120.0" width="2.34" height="2.3" fill="#176e1a"/><rect x="306.58" y="120.0" width="2.06" height="2.3" fill="#1c7220"/><rect x="307.94" y="120.0" width="2.45" height="2.3" fill="#176e1a"/><rect x="309.69" y="120.0" width="2.29" height="2.3" fill="#1c7220"/><rect x="311.28" y="120.0" width="1.98" height="2.3" fill="#1c7220"/><rect x="312.56" y="120.0" width="2.21" height="2.3" fill="#176e1a"/><rect x="314.07" y="120.0" width="2.14" height="2.3" fill="#1c7220"/><rect x="315.51" y="120.0" width="1.52" height="2.3" fill="#1c7220"/><rect x="316.33" y="120.0" width="1.95" height="2.3" fill="#136a18"/><rect x="317.58" y="120.0" width="2.23" height="2.3" fill="#0f6614"/><rect x="319.1" y="120.0" width="1.3" height="2.3" fill="#176e1a"/><rect x="319.7" y="120.0" width="2.12" height="2.3" fill="#0f6614"/><rect x="321.12" y="120.0" width="2.45" height="2.3" fill="#0f6614"/><rect x="322.87" y="120.0" width="1.87" height="2.3" fill="#6a9a60"/><rect x="324.04" y="120.0" width="1.48" height="2.3" fill="#c8dcc0"/><rect x="324.81" y="120.0" width="1.43" height="2.3" fill="#3a7a34"/><rect x="325.54" y="120.0" width="2.25" height="2.3" fill="#c8dcc0"/><rect x="327.1" y="120.0" width="2.07" height="2.3" fill="#d0e0c8"/><rect x="328.47" y="120.0" width="1.59" height="2.3" fill="#c8dcc0"/><rect x="329.36" y="120.0" width="1.36" height="2.3" fill="#d0e0c8"/><rect x="330.02" y="120.0" width="2.46" height="2.3" fill="#4a8a44"/><rect x="331.78" y="120.0" width="2.01" height="2.3" fill="#c8dcc0"/><rect x="333.09" y="120.0" width="1.67" height="2.3" fill="#4a8a44"/><rect x="334.06" y="120.0" width="1.56" height="2.3" fill="#c8dcc0"/><rect x="334.92" y="120.0" width="2.07" height="2.3" fill="#d0e0c8"/><rect x="336.29" y="120.0" width="1.33" height="2.3" fill="#b0ccaa"/><rect x="336.91" y="120.0" width="1.45" height="2.3" fill="#6a9a60"/><rect x="337.67" y="120.0" width="2.42" height="2.3" fill="#9ac090"/><rect x="339.39" y="120.0" width="1.77" height="2.3" fill="#c8dcc0"/><rect x="340.46" y="120.0" width="1.78" height="2.3" fill="#4a8a44"/><rect x="341.54" y="120.0" width="2.17" height="2.3" fill="#b0ccaa"/><rect x="343" y="120.0" width="2.47" height="2.3" fill="#9ac090"/><rect x="344.77" y="120.0" width="2.15" height="2.3" fill="#4a8a44"/><rect x="346.22" y="120.0" width="2.42" height="2.3" fill="#9ac090"/><rect x="347.94" y="120.0" width="1.84" height="2.3" fill="#3a7a34"/><rect x="349.08" y="120.0" width="1.87" height="2.3" fill="#d0e0c8"/><rect x="350.26" y="120.0" width="2.44" height="2.3" fill="#5a9a50"/><rect x="351.99" y="120.0" width="1.56" height="2.3" fill="#5a9a50"/><rect x="352.86" y="120.0" width="1.96" height="2.3" fill="#b8dcb0"/><rect x="354.12" y="120.0" width="2.14" height="2.3" fill="#8ac880"/><rect x="355.56" y="120.0" width="1.39" height="2.3" fill="#b8dcb0"/><rect x="356.25" y="120.0" width="1.92" height="2.3" fill="#70b068"/><rect x="357.47" y="120.0" width="2.39" height="2.3" fill="#a0d098"/><rect x="359.16" y="120.0" width="1.36" height="2.3" fill="#5a9a50"/><rect x="359.83" y="120.0" width="1.56" height="2.3" fill="#70b068"/><rect x="360.68" y="120.0" width="1.39" height="2.3" fill="#70b068"/><rect x="361.37" y="120.0" width="1.79" height="2.3" fill="#70b068"/><rect x="362.46" y="120.0" width="1.42" height="2.3" fill="#5a9a50"/><rect x="363.17" y="120.0" width="2.35" height="2.3" fill="#5a9a50"/><rect x="364.83" y="120.0" width="2.49" height="2.3" fill="#b8dcb0"/><rect x="366.62" y="120.0" width="1.51" height="2.3" fill="#b8dcb0"/><rect x="367.42" y="120.0" width="1.55" height="2.3" fill="#70b068"/><rect x="368.28" y="120.0" width="2.22" height="2.3" fill="#a07850"/><rect x="369.79" y="120.0" width="1.44" height="2.3" fill="#986a50"/><rect x="370.53" y="120.0" width="1.72" height="2.3" fill="#c8a890"/><rect x="371.55" y="120.0" width="1.68" height="2.3" fill="#b89a80"/><rect x="372.54" y="120.0" width="2.08" height="2.3" fill="#c8a890"/><rect x="373.92" y="120.0" width="1.54" height="2.3" fill="#c8a890"/><rect x="374.75" y="120.0" width="1.6" height="2.3" fill="#a07850"/><rect x="375.65" y="120.0" width="1.61" height="2.3" fill="#b89a80"/><rect x="376.56" y="120.0" width="2.21" height="2.3" fill="#a07850"/><rect x="378.07" y="120.0" width="1.69" height="2.3" fill="#e83a38"/><rect x="379.06" y="120.0" width="1.71" height="2.3" fill="#f04040"/><rect x="380.07" y="120.0" width="1.75" height="2.3" fill="#f04040"/><rect x="381.13" y="120.0" width="1.72" height="2.3" fill="#f04040"/><rect x="382.15" y="120.0" width="2.34" height="2.3" fill="#f04040"/><rect x="383.79" y="120.0" width="2.08" height="2.3" fill="#f04040"/><rect x="385.17" y="120.0" width="1.34" height="2.3" fill="#f04040"/><rect x="385.81" y="120.0" width="1.41" height="2.3" fill="#d83030"/><rect x="386.52" y="120.0" width="1.38" height="2.3" fill="#b83a30"/><rect x="387.2" y="120.0" width="1.9" height="2.3" fill="#e83a38"/><rect x="388.4" y="120.0" width="1.38" height="2.3" fill="#c83030"/><rect x="389.08" y="120.0" width="1.4" height="2.3" fill="#d83030"/><rect x="389.78" y="120.0" width="2.22" height="2.3" fill="#b83a30"/><rect x="391.31" y="120.0" width="1.46" height="2.3" fill="#b83a30"/>
<text x="288.1" y="108.9" text-anchor="end" class="lc">0.00</text>
<text x="288.1" y="88.65" text-anchor="end" class="lc">0.25</text>
<text x="288.1" y="68.4" text-anchor="end" class="lc">0.50</text>
<text x="288.1" y="48.15" text-anchor="end" class="lc">0.75</text>
<text x="288.1" y="27.9" text-anchor="end" class="lc">1.00</text>
<text x="305.7" y="130" text-anchor="middle" class="lc">25</text>
<text x="333.9" y="130" text-anchor="middle" class="lc">50</text>
<text x="362.1" y="130" text-anchor="middle" class="lc">75</text>
<text x="390.3" y="130" text-anchor="middle" class="lc">100</text>
<text x="344.4" y="138.4" text-anchor="middle" class="lc">plDDT</text>
<text transform="translate(269.5,69.6) rotate(-90)" text-anchor="middle" class="lc" style="font-size:7.2px">rASA</text>
<text x="255.2" y="7.2" class="pl">C</text>
<rect x="78.3" y="163.2" width="281.7" height="68.3" fill="none" stroke="#c8c8c8" stroke-width="0.9"/>
<g fill="#22b23f" stroke="#0f8a29" stroke-width="0.3"><circle cx="137.61" cy="167.24" r="0.5"/><circle cx="138.49" cy="167.4" r="0.5"/><circle cx="139.37" cy="167.29" r="0.5"/><circle cx="140.25" cy="167.24" r="0.5"/><circle cx="141.13" cy="167.29" r="0.5"/><circle cx="156.37" cy="167.36" r="0.5"/><circle cx="157.24" cy="167.17" r="0.5"/><circle cx="158.12" cy="167.44" r="0.5"/><circle cx="159" cy="167.16" r="0.5"/><circle cx="159.88" cy="167.37" r="0.5"/><circle cx="122.86" cy="168.06" r="0.5"/><circle cx="123.67" cy="168.35" r="0.5"/><circle cx="124.49" cy="168.21" r="0.5"/><circle cx="125.3" cy="168.17" r="0.5"/><circle cx="126.11" cy="168.12" r="0.5"/><circle cx="126.93" cy="168.23" r="0.5"/><circle cx="127.74" cy="168.3" r="0.5"/><circle cx="128.56" cy="168.19" r="0.5"/><circle cx="129.37" cy="168.18" r="0.5"/><circle cx="130.18" cy="168.07" r="0.5"/><circle cx="131" cy="168.32" r="0.5"/><circle cx="131.81" cy="168.06" r="0.5"/><circle cx="132.62" cy="168.2" r="0.5"/><circle cx="133.44" cy="168.3" r="0.5"/><circle cx="134.25" cy="168.09" r="0.5"/><circle cx="135.06" cy="168.27" r="0.5"/><circle cx="135.88" cy="168.33" r="0.5"/><circle cx="136.69" cy="168.24" r="0.5"/><circle cx="137.51" cy="168.29" r="0.5"/><circle cx="159.44" cy="168.08" r="0.5"/><circle cx="160.25" cy="168.18" r="0.5"/><circle cx="161.07" cy="168.09" r="0.5"/><circle cx="161.88" cy="168.3" r="0.5"/><circle cx="162.69" cy="168.14" r="0.5"/><circle cx="163.51" cy="168.19" r="0.5"/><circle cx="164.32" cy="168.35" r="0.5"/><circle cx="165.13" cy="168.31" r="0.5"/><circle cx="165.95" cy="168.34" r="0.5"/><circle cx="166.76" cy="168.19" r="0.5"/><circle cx="167.57" cy="168.2" r="0.5"/><circle cx="168.39" cy="168.27" r="0.5"/><circle cx="169.2" cy="168.19" r="0.5"/><circle cx="170.02" cy="168.14" r="0.5"/><circle cx="170.83" cy="168.17" r="0.5"/><circle cx="171.64" cy="168.09" r="0.5"/><circle cx="172.46" cy="168.16" r="0.5"/><circle cx="173.27" cy="168.35" r="0.5"/><circle cx="174.08" cy="168.34" r="0.5"/><circle cx="131.97" cy="169.29" r="0.5"/><circle cx="132.8" cy="169.4" r="0.5"/><circle cx="133.62" cy="169.34" r="0.5"/><circle cx="134.45" cy="169.39" r="0.5"/><circle cx="135.28" cy="169.25" r="0.5"/><circle cx="136.1" cy="169.34" r="0.5"/><circle cx="136.93" cy="169.37" r="0.5"/><circle cx="137.75" cy="169.4" r="0.5"/><circle cx="138.58" cy="169.26" r="0.5"/><circle cx="139.41" cy="169.4" r="0.5"/><circle cx="140.23" cy="169.41" r="0.5"/><circle cx="141.06" cy="169.36" r="0.5"/><circle cx="154.95" cy="169.44" r="0.5"/><circle cx="155.78" cy="169.44" r="0.5"/><circle cx="156.61" cy="169.31" r="0.5"/><circle cx="157.43" cy="169.31" r="0.5"/><circle cx="158.26" cy="169.2" r="0.5"/><circle cx="159.09" cy="169.4" r="0.5"/><circle cx="159.91" cy="169.43" r="0.5"/><circle cx="160.74" cy="169.29" r="0.5"/><circle cx="161.57" cy="169.36" r="0.5"/><circle cx="162.39" cy="169.37" r="0.5"/><circle cx="163.22" cy="169.37" r="0.5"/><circle cx="164.05" cy="169.2" r="0.5"/><circle cx="129.1" cy="170.43" r="0.5"/><circle cx="129.87" cy="170.47" r="0.5"/><circle cx="130.64" cy="170.38" r="0.5"/><circle cx="131.41" cy="170.6" r="0.5"/><circle cx="132.18" cy="170.46" r="0.5"/><circle cx="132.95" cy="170.36" r="0.5"/><circle cx="133.72" cy="170.53" r="0.5"/><circle cx="134.49" cy="170.38" r="0.5"/><circle cx="135.26" cy="170.51" r="0.5"/><circle cx="136.03" cy="170.45" r="0.5"/><circle cx="136.8" cy="170.52" r="0.5"/><circle cx="137.57" cy="170.64" r="0.5"/><circle cx="138.34" cy="170.6" r="0.5"/><circle cx="139.11" cy="170.48" r="0.5"/><circle cx="156.47" cy="170.59" r="0.5"/><circle cx="157.24" cy="170.54" r="0.5"/><circle cx="158.01" cy="170.46" r="0.5"/><circle cx="158.78" cy="170.39" r="0.5"/><circle cx="159.55" cy="170.53" r="0.5"/><circle cx="160.32" cy="170.52" r="0.5"/><circle cx="161.09" cy="170.64" r="0.5"/><circle cx="161.86" cy="170.64" r="0.5"/><circle cx="162.63" cy="170.53" r="0.5"/><circle cx="163.4" cy="170.46" r="0.5"/><circle cx="164.17" cy="170.62" r="0.5"/><circle cx="164.94" cy="170.35" r="0.5"/><circle cx="165.71" cy="170.38" r="0.5"/><circle cx="166.48" cy="170.52" r="0.5"/><circle cx="134.78" cy="171.61" r="0.5"/><circle cx="135.52" cy="171.53" r="0.5"/><circle cx="136.27" cy="171.73" r="0.5"/><circle cx="137.02" cy="171.68" r="0.5"/><circle cx="137.77" cy="171.52" r="0.5"/><circle cx="138.52" cy="171.53" r="0.5"/><circle cx="139.26" cy="171.5" r="0.5"/><circle cx="140.01" cy="171.75" r="0.5"/><circle cx="155.32" cy="171.54" r="0.5"/><circle cx="156.06" cy="171.63" r="0.5"/><circle cx="156.81" cy="171.59" r="0.5"/><circle cx="157.56" cy="171.64" r="0.5"/><circle cx="158.31" cy="171.63" r="0.5"/><circle cx="159.06" cy="171.67" r="0.5"/><circle cx="159.8" cy="171.49" r="0.5"/><circle cx="160.55" cy="171.68" r="0.5"/><circle cx="132.17" cy="172.78" r="0.5"/><circle cx="132.97" cy="172.82" r="0.5"/><circle cx="133.78" cy="172.59" r="0.5"/><circle cx="134.58" cy="172.69" r="0.5"/><circle cx="135.38" cy="172.71" r="0.5"/><circle cx="136.19" cy="172.7" r="0.5"/><circle cx="136.99" cy="172.65" r="0.5"/><circle cx="137.79" cy="172.6" r="0.5"/><circle cx="156.4" cy="172.73" r="0.5"/><circle cx="157.2" cy="172.79" r="0.5"/><circle cx="158" cy="172.57" r="0.5"/><circle cx="158.81" cy="172.62" r="0.5"/><circle cx="159.61" cy="172.8" r="0.5"/><circle cx="160.41" cy="172.79" r="0.5"/><circle cx="161.22" cy="172.75" r="0.5"/><circle cx="162.02" cy="172.56" r="0.5"/><circle cx="136.33" cy="173.93" r="0.5"/><circle cx="137.05" cy="173.76" r="0.5"/><circle cx="137.76" cy="173.67" r="0.5"/><circle cx="138.47" cy="173.86" r="0.5"/><circle cx="139.18" cy="173.7" r="0.5"/><circle cx="155.49" cy="173.84" r="0.5"/><circle cx="156.2" cy="173.8" r="0.5"/><circle cx="156.91" cy="173.92" r="0.5"/><circle cx="157.62" cy="173.82" r="0.5"/><circle cx="158.34" cy="173.84" r="0.5"/><circle cx="136.64" cy="175.1" r="0.5"/><circle cx="137.32" cy="174.89" r="0.5"/><circle cx="138" cy="175.04" r="0.5"/><circle cx="138.68" cy="174.96" r="0.5"/><circle cx="155.96" cy="174.92" r="0.5"/><circle cx="156.64" cy="174.95" r="0.5"/><circle cx="157.32" cy="175.03" r="0.5"/><circle cx="158" cy="174.95" r="0.5"/><circle cx="140.63" cy="176.08" r="0.5"/><circle cx="141.14" cy="176.1" r="0.5"/><circle cx="154.39" cy="176.1" r="0.5"/><circle cx="154.9" cy="176.16" r="0.5"/><circle cx="138.85" cy="206.31" r="0.5"/><circle cx="139.58" cy="206.17" r="0.5"/><circle cx="140.3" cy="206.22" r="0.5"/><circle cx="156.92" cy="206.44" r="0.5"/><circle cx="157.65" cy="206.28" r="0.5"/><circle cx="158.37" cy="206.29" r="0.5"/><circle cx="139.33" cy="211.33" r="0.5"/><circle cx="140.39" cy="211.33" r="0.5"/><circle cx="156.42" cy="211.35" r="0.5"/><circle cx="157.48" cy="211.14" r="0.5"/><circle cx="140.7" cy="212.33" r="0.5"/><circle cx="141.32" cy="212.49" r="0.5"/><circle cx="141.95" cy="212.47" r="0.5"/><circle cx="154.26" cy="212.33" r="0.5"/><circle cx="154.89" cy="212.5" r="0.5"/><circle cx="155.52" cy="212.44" r="0.5"/><circle cx="134.75" cy="213.27" r="0.5"/><circle cx="135.62" cy="213.44" r="0.5"/><circle cx="136.49" cy="213.5" r="0.5"/><circle cx="137.36" cy="213.29" r="0.5"/><circle cx="138.22" cy="213.48" r="0.5"/><circle cx="139.09" cy="213.33" r="0.5"/><circle cx="157.59" cy="213.34" r="0.5"/><circle cx="158.46" cy="213.25" r="0.5"/><circle cx="159.33" cy="213.48" r="0.5"/><circle cx="160.2" cy="213.4" r="0.5"/><circle cx="161.07" cy="213.52" r="0.5"/><circle cx="161.93" cy="213.39" r="0.5"/><circle cx="135.72" cy="214.5" r="0.5"/><circle cx="136.47" cy="214.34" r="0.5"/><circle cx="137.23" cy="214.28" r="0.5"/><circle cx="137.98" cy="214.33" r="0.5"/><circle cx="138.74" cy="214.36" r="0.5"/><circle cx="139.49" cy="214.52" r="0.5"/><circle cx="140.25" cy="214.33" r="0.5"/><circle cx="141" cy="214.44" r="0.5"/><circle cx="154.84" cy="214.44" r="0.5"/><circle cx="155.6" cy="214.54" r="0.5"/><circle cx="156.35" cy="214.28" r="0.5"/><circle cx="157.11" cy="214.48" r="0.5"/><circle cx="157.86" cy="214.35" r="0.5"/><circle cx="158.62" cy="214.28" r="0.5"/><circle cx="159.37" cy="214.44" r="0.5"/><circle cx="160.13" cy="214.5" r="0.5"/><circle cx="129.92" cy="215.28" r="0.5"/><circle cx="130.74" cy="215.48" r="0.5"/><circle cx="131.55" cy="215.28" r="0.5"/><circle cx="132.37" cy="215.41" r="0.5"/><circle cx="133.18" cy="215.28" r="0.5"/><circle cx="134" cy="215.55" r="0.5"/><circle cx="134.81" cy="215.41" r="0.5"/><circle cx="135.63" cy="215.38" r="0.5"/><circle cx="136.44" cy="215.33" r="0.5"/><circle cx="137.26" cy="215.42" r="0.5"/><circle cx="138.07" cy="215.54" r="0.5"/><circle cx="138.89" cy="215.38" r="0.5"/><circle cx="139.7" cy="215.31" r="0.5"/><circle cx="157.18" cy="215.4" r="0.5"/><circle cx="157.99" cy="215.53" r="0.5"/><circle cx="158.81" cy="215.36" r="0.5"/><circle cx="159.62" cy="215.44" r="0.5"/><circle cx="160.44" cy="215.53" r="0.5"/><circle cx="161.25" cy="215.35" r="0.5"/><circle cx="162.07" cy="215.49" r="0.5"/><circle cx="162.88" cy="215.41" r="0.5"/><circle cx="163.7" cy="215.29" r="0.5"/><circle cx="164.51" cy="215.27" r="0.5"/><circle cx="165.33" cy="215.53" r="0.5"/><circle cx="166.14" cy="215.39" r="0.5"/><circle cx="166.96" cy="215.38" r="0.5"/><circle cx="132.4" cy="216.27" r="0.5"/><circle cx="133.24" cy="216.47" r="0.5"/><circle cx="134.07" cy="216.29" r="0.5"/><circle cx="134.91" cy="216.48" r="0.5"/><circle cx="135.74" cy="216.35" r="0.5"/><circle cx="136.58" cy="216.43" r="0.5"/><circle cx="137.41" cy="216.44" r="0.5"/><circle cx="138.25" cy="216.4" r="0.5"/><circle cx="139.08" cy="216.51" r="0.5"/><circle cx="139.92" cy="216.53" r="0.5"/><circle cx="140.75" cy="216.33" r="0.5"/><circle cx="141.59" cy="216.35" r="0.5"/><circle cx="155.62" cy="216.51" r="0.5"/><circle cx="156.46" cy="216.29" r="0.5"/><circle cx="157.29" cy="216.38" r="0.5"/><circle cx="158.13" cy="216.37" r="0.5"/><circle cx="158.96" cy="216.54" r="0.5"/><circle cx="159.8" cy="216.29" r="0.5"/><circle cx="160.63" cy="216.45" r="0.5"/><circle cx="161.47" cy="216.48" r="0.5"/><circle cx="162.3" cy="216.47" r="0.5"/><circle cx="163.14" cy="216.25" r="0.5"/><circle cx="163.97" cy="216.53" r="0.5"/><circle cx="164.81" cy="216.34" r="0.5"/><circle cx="126.17" cy="217.47" r="0.5"/><circle cx="126.95" cy="217.4" r="0.5"/><circle cx="127.73" cy="217.38" r="0.5"/><circle cx="128.51" cy="217.34" r="0.5"/><circle cx="129.29" cy="217.47" r="0.5"/><circle cx="130.07" cy="217.36" r="0.5"/><circle cx="130.85" cy="217.43" r="0.5"/><circle cx="131.63" cy="217.48" r="0.5"/><circle cx="132.4" cy="217.38" r="0.5"/><circle cx="133.18" cy="217.46" r="0.5"/><circle cx="133.96" cy="217.27" r="0.5"/><circle cx="134.74" cy="217.33" r="0.5"/><circle cx="135.52" cy="217.5" r="0.5"/><circle cx="136.3" cy="217.29" r="0.5"/><circle cx="137.08" cy="217.27" r="0.5"/><circle cx="137.86" cy="217.25" r="0.5"/><circle cx="138.64" cy="217.48" r="0.5"/><circle cx="157.43" cy="217.28" r="0.5"/><circle cx="158.21" cy="217.39" r="0.5"/><circle cx="158.99" cy="217.38" r="0.5"/><circle cx="159.77" cy="217.49" r="0.5"/><circle cx="160.55" cy="217.39" r="0.5"/><circle cx="161.33" cy="217.41" r="0.5"/><circle cx="162.11" cy="217.26" r="0.5"/><circle cx="162.89" cy="217.49" r="0.5"/><circle cx="163.67" cy="217.48" r="0.5"/><circle cx="164.45" cy="217.44" r="0.5"/><circle cx="165.23" cy="217.5" r="0.5"/><circle cx="166.01" cy="217.43" r="0.5"/><circle cx="166.79" cy="217.46" r="0.5"/><circle cx="167.57" cy="217.51" r="0.5"/><circle cx="168.35" cy="217.44" r="0.5"/><circle cx="169.13" cy="217.26" r="0.5"/><circle cx="169.9" cy="217.52" r="0.5"/><circle cx="131.18" cy="218.48" r="0.5"/><circle cx="131.96" cy="218.51" r="0.5"/><circle cx="132.75" cy="218.53" r="0.5"/><circle cx="133.54" cy="218.49" r="0.5"/><circle cx="134.32" cy="218.37" r="0.5"/><circle cx="135.11" cy="218.45" r="0.5"/><circle cx="135.89" cy="218.45" r="0.5"/><circle cx="136.68" cy="218.51" r="0.5"/><circle cx="137.47" cy="218.46" r="0.5"/><circle cx="138.25" cy="218.38" r="0.5"/><circle cx="139.04" cy="218.31" r="0.5"/><circle cx="139.83" cy="218.35" r="0.5"/><circle cx="140.61" cy="218.33" r="0.5"/><circle cx="155" cy="218.45" r="0.5"/><circle cx="155.78" cy="218.48" r="0.5"/><circle cx="156.57" cy="218.31" r="0.5"/><circle cx="157.36" cy="218.41" r="0.5"/><circle cx="158.14" cy="218.5" r="0.5"/><circle cx="158.93" cy="218.36" r="0.5"/><circle cx="159.72" cy="218.28" r="0.5"/><circle cx="160.5" cy="218.43" r="0.5"/><circle cx="161.29" cy="218.36" r="0.5"/><circle cx="162.07" cy="218.29" r="0.5"/><circle cx="162.86" cy="218.34" r="0.5"/><circle cx="163.65" cy="218.25" r="0.5"/><circle cx="164.43" cy="218.29" r="0.5"/><circle cx="121.28" cy="219.19" r="0.5"/><circle cx="122.1" cy="219.31" r="0.5"/><circle cx="122.92" cy="219.17" r="0.5"/><circle cx="123.74" cy="219.34" r="0.5"/><circle cx="124.56" cy="219.42" r="0.5"/><circle cx="125.38" cy="219.34" r="0.5"/><circle cx="126.2" cy="219.16" r="0.5"/><circle cx="127.02" cy="219.3" r="0.5"/><circle cx="127.84" cy="219.29" r="0.5"/><circle cx="128.66" cy="219.28" r="0.5"/><circle cx="129.48" cy="219.2" r="0.5"/><circle cx="130.3" cy="219.23" r="0.5"/><circle cx="131.12" cy="219.28" r="0.5"/><circle cx="131.94" cy="219.17" r="0.5"/><circle cx="132.76" cy="219.35" r="0.5"/><circle cx="133.58" cy="219.22" r="0.5"/><circle cx="134.4" cy="219.24" r="0.5"/><circle cx="135.22" cy="219.18" r="0.5"/><circle cx="136.04" cy="219.24" r="0.5"/><circle cx="158.14" cy="219.43" r="0.5"/><circle cx="158.96" cy="219.24" r="0.5"/><circle cx="159.79" cy="219.18" r="0.5"/><circle cx="160.61" cy="219.25" r="0.5"/><circle cx="161.43" cy="219.43" r="0.5"/><circle cx="162.25" cy="219.18" r="0.5"/><circle cx="163.07" cy="219.25" r="0.5"/><circle cx="163.89" cy="219.21" r="0.5"/><circle cx="164.71" cy="219.35" r="0.5"/><circle cx="165.53" cy="219.29" r="0.5"/><circle cx="166.35" cy="219.18" r="0.5"/><circle cx="167.17" cy="219.41" r="0.5"/><circle cx="167.99" cy="219.25" r="0.5"/><circle cx="168.81" cy="219.36" r="0.5"/><circle cx="169.63" cy="219.29" r="0.5"/><circle cx="170.45" cy="219.41" r="0.5"/><circle cx="171.27" cy="219.17" r="0.5"/><circle cx="172.09" cy="219.22" r="0.5"/><circle cx="172.91" cy="219.24" r="0.5"/><circle cx="124.24" cy="220.26" r="0.5"/><circle cx="125.02" cy="220.2" r="0.5"/><circle cx="125.8" cy="220.31" r="0.5"/><circle cx="126.59" cy="220.3" r="0.5"/><circle cx="127.37" cy="220.24" r="0.5"/><circle cx="128.15" cy="220.3" r="0.5"/><circle cx="128.93" cy="220.1" r="0.5"/><circle cx="129.72" cy="220.19" r="0.5"/><circle cx="130.5" cy="220.15" r="0.5"/><circle cx="131.28" cy="220.24" r="0.5"/><circle cx="132.07" cy="220.08" r="0.5"/><circle cx="132.85" cy="220.32" r="0.5"/><circle cx="133.63" cy="220.16" r="0.5"/><circle cx="134.42" cy="220.29" r="0.5"/><circle cx="135.2" cy="220.33" r="0.5"/><circle cx="135.98" cy="220.33" r="0.5"/><circle cx="136.76" cy="220.17" r="0.5"/><circle cx="155.63" cy="220.31" r="0.5"/><circle cx="156.42" cy="220.35" r="0.5"/><circle cx="157.2" cy="220.09" r="0.5"/><circle cx="157.98" cy="220.27" r="0.5"/><circle cx="158.77" cy="220.27" r="0.5"/><circle cx="159.55" cy="220.19" r="0.5"/><circle cx="160.33" cy="220.13" r="0.5"/><circle cx="161.11" cy="220.1" r="0.5"/><circle cx="161.9" cy="220.17" r="0.5"/><circle cx="162.68" cy="220.33" r="0.5"/><circle cx="163.46" cy="220.17" r="0.5"/><circle cx="164.25" cy="220.13" r="0.5"/><circle cx="165.03" cy="220.24" r="0.5"/><circle cx="165.81" cy="220.18" r="0.5"/><circle cx="166.6" cy="220.23" r="0.5"/><circle cx="167.38" cy="220.19" r="0.5"/><circle cx="168.16" cy="220.14" r="0.5"/><circle cx="117.43" cy="220.95" r="0.5"/><circle cx="118.21" cy="221.04" r="0.5"/><circle cx="119" cy="221.2" r="0.5"/><circle cx="119.78" cy="221.21" r="0.5"/><circle cx="120.56" cy="221.17" r="0.5"/><circle cx="121.34" cy="221.17" r="0.5"/><circle cx="122.12" cy="221.22" r="0.5"/><circle cx="122.9" cy="221.12" r="0.5"/><circle cx="123.69" cy="221.06" r="0.5"/><circle cx="124.47" cy="221.12" r="0.5"/><circle cx="125.25" cy="221.03" r="0.5"/><circle cx="126.03" cy="220.96" r="0.5"/><circle cx="126.81" cy="221.03" r="0.5"/><circle cx="127.59" cy="221.09" r="0.5"/><circle cx="128.38" cy="220.99" r="0.5"/><circle cx="129.16" cy="220.97" r="0.5"/><circle cx="129.94" cy="221.02" r="0.5"/><circle cx="130.72" cy="221.06" r="0.5"/><circle cx="131.5" cy="221.24" r="0.5"/><circle cx="132.28" cy="221.1" r="0.5"/><circle cx="133.07" cy="221.2" r="0.5"/><circle cx="133.85" cy="221.17" r="0.5"/><circle cx="158.35" cy="221.13" r="0.5"/><circle cx="159.13" cy="221.05" r="0.5"/><circle cx="159.91" cy="221.07" r="0.5"/><circle cx="160.69" cy="221.05" r="0.5"/><circle cx="161.47" cy="221.14" r="0.5"/><circle cx="162.26" cy="221.21" r="0.5"/><circle cx="163.04" cy="221.19" r="0.5"/><circle cx="163.82" cy="221.04" r="0.5"/><circle cx="164.6" cy="220.99" r="0.5"/><circle cx="165.38" cy="220.95" r="0.5"/><circle cx="166.16" cy="221.13" r="0.5"/><circle cx="166.95" cy="221.02" r="0.5"/><circle cx="167.73" cy="220.95" r="0.5"/><circle cx="168.51" cy="221.04" r="0.5"/><circle cx="169.29" cy="221.02" r="0.5"/><circle cx="170.07" cy="221.01" r="0.5"/><circle cx="170.85" cy="221.15" r="0.5"/><circle cx="171.64" cy="221.13" r="0.5"/><circle cx="172.42" cy="221.03" r="0.5"/><circle cx="173.2" cy="221.17" r="0.5"/><circle cx="173.98" cy="221.01" r="0.5"/><circle cx="174.76" cy="221.23" r="0.5"/><circle cx="121.27" cy="221.97" r="0.5"/><circle cx="122.06" cy="222.12" r="0.5"/><circle cx="122.84" cy="221.87" r="0.5"/><circle cx="123.63" cy="221.96" r="0.5"/><circle cx="124.41" cy="222.06" r="0.5"/><circle cx="125.2" cy="222.04" r="0.5"/><circle cx="125.98" cy="221.86" r="0.5"/><circle cx="126.77" cy="221.92" r="0.5"/><circle cx="127.55" cy="221.93" r="0.5"/><circle cx="128.34" cy="222.12" r="0.5"/><circle cx="129.12" cy="221.98" r="0.5"/><circle cx="129.91" cy="221.93" r="0.5"/><circle cx="130.69" cy="221.99" r="0.5"/><circle cx="131.47" cy="222" r="0.5"/><circle cx="132.26" cy="221.89" r="0.5"/><circle cx="133.04" cy="222.05" r="0.5"/><circle cx="133.83" cy="222.07" r="0.5"/><circle cx="134.61" cy="221.99" r="0.5"/><circle cx="135.4" cy="222.01" r="0.5"/><circle cx="156.58" cy="222.08" r="0.5"/><circle cx="157.36" cy="222.14" r="0.5"/><circle cx="158.15" cy="222.03" r="0.5"/><circle cx="158.93" cy="221.86" r="0.5"/><circle cx="159.71" cy="222" r="0.5"/><circle cx="160.5" cy="222.05" r="0.5"/><circle cx="161.28" cy="221.95" r="0.5"/><circle cx="162.07" cy="222.06" r="0.5"/><circle cx="162.85" cy="221.96" r="0.5"/><circle cx="163.64" cy="222.03" r="0.5"/><circle cx="164.42" cy="222.03" r="0.5"/><circle cx="165.21" cy="222.05" r="0.5"/><circle cx="165.99" cy="222.13" r="0.5"/><circle cx="166.78" cy="222.06" r="0.5"/><circle cx="167.56" cy="222.06" r="0.5"/><circle cx="168.35" cy="222.06" r="0.5"/><circle cx="169.13" cy="221.92" r="0.5"/><circle cx="169.92" cy="222.03" r="0.5"/><circle cx="170.7" cy="222.04" r="0.5"/><circle cx="124.45" cy="223.08" r="0.5"/><circle cx="125.26" cy="223.01" r="0.5"/><circle cx="126.07" cy="223.05" r="0.5"/><circle cx="126.88" cy="223.04" r="0.5"/><circle cx="127.69" cy="223.11" r="0.5"/><circle cx="128.5" cy="223.06" r="0.5"/><circle cx="129.31" cy="223.14" r="0.5"/><circle cx="130.12" cy="223" r="0.5"/><circle cx="130.93" cy="223" r="0.5"/><circle cx="131.74" cy="223.05" r="0.5"/><circle cx="132.55" cy="223.02" r="0.5"/><circle cx="133.36" cy="222.86" r="0.5"/><circle cx="134.16" cy="223.14" r="0.5"/><circle cx="134.97" cy="222.95" r="0.5"/><circle cx="135.78" cy="223" r="0.5"/><circle cx="136.59" cy="222.86" r="0.5"/><circle cx="137.4" cy="222.91" r="0.5"/><circle cx="156.87" cy="223.13" r="0.5"/><circle cx="157.68" cy="222.93" r="0.5"/><circle cx="158.49" cy="222.94" r="0.5"/><circle cx="159.3" cy="223.09" r="0.5"/><circle cx="160.11" cy="222.92" r="0.5"/><circle cx="160.92" cy="223.05" r="0.5"/><circle cx="161.73" cy="223.02" r="0.5"/><circle cx="162.54" cy="223.12" r="0.5"/><circle cx="163.35" cy="222.99" r="0.5"/><circle cx="164.16" cy="222.95" r="0.5"/><circle cx="164.97" cy="222.93" r="0.5"/><circle cx="165.78" cy="222.96" r="0.5"/><circle cx="166.58" cy="222.85" r="0.5"/><circle cx="167.39" cy="222.89" r="0.5"/><circle cx="168.2" cy="222.89" r="0.5"/><circle cx="169.01" cy="222.94" r="0.5"/><circle cx="169.82" cy="223.08" r="0.5"/><circle cx="135.74" cy="224.07" r="0.5"/><circle cx="136.52" cy="224.09" r="0.5"/><circle cx="137.29" cy="223.85" r="0.5"/><circle cx="138.07" cy="223.94" r="0.5"/><circle cx="138.85" cy="223.99" r="0.5"/><circle cx="139.63" cy="224.12" r="0.5"/><circle cx="140.4" cy="224.12" r="0.5"/><circle cx="141.18" cy="223.89" r="0.5"/><circle cx="141.96" cy="224.15" r="0.5"/><circle cx="155.47" cy="224.02" r="0.5"/><circle cx="156.25" cy="223.94" r="0.5"/><circle cx="157.02" cy="223.87" r="0.5"/><circle cx="157.8" cy="223.98" r="0.5"/><circle cx="158.58" cy="224.01" r="0.5"/><circle cx="159.36" cy="223.99" r="0.5"/><circle cx="160.13" cy="223.94" r="0.5"/><circle cx="160.91" cy="224.13" r="0.5"/><circle cx="161.69" cy="223.99" r="0.5"/><circle cx="136.68" cy="224.86" r="0.5"/><circle cx="137.57" cy="225.12" r="0.5"/><circle cx="138.45" cy="225.13" r="0.5"/><circle cx="139.34" cy="225.05" r="0.5"/><circle cx="157.13" cy="224.87" r="0.5"/><circle cx="158.02" cy="224.98" r="0.5"/><circle cx="158.91" cy="225.1" r="0.5"/><circle cx="159.8" cy="225.03" r="0.5"/><circle cx="143.13" cy="226.17" r="0.5"/><circle cx="143.48" cy="225.97" r="0.5"/><circle cx="154.4" cy="226.03" r="0.5"/><circle cx="154.75" cy="226.15" r="0.5"/></g><g fill="#22b23f" stroke="#0f8a29" stroke-width="0.35"><circle cx="149.54" cy="220.95" r="0.85"/><circle cx="148.78" cy="171.89" r="0.85"/><circle cx="151.93" cy="215.24" r="0.85"/><circle cx="153.96" cy="219.44" r="0.85"/><circle cx="145.35" cy="176.34" r="0.85"/><circle cx="146.05" cy="215.62" r="0.85"/><circle cx="147.83" cy="211.27" r="0.85"/><circle cx="147.31" cy="223.96" r="0.85"/><circle cx="150.17" cy="226.33" r="0.85"/><circle cx="147.37" cy="169.42" r="0.85"/><circle cx="142.01" cy="216.55" r="0.85"/><circle cx="142.31" cy="208.97" r="0.85"/><circle cx="145.12" cy="221.27" r="0.85"/><circle cx="153.82" cy="177.14" r="0.85"/><circle cx="153.17" cy="224.99" r="0.85"/><circle cx="146.07" cy="218.33" r="0.85"/><circle cx="149.66" cy="178.67" r="0.85"/><circle cx="149.87" cy="169.41" r="0.85"/><circle cx="138.24" cy="172.58" r="0.85"/><circle cx="151.99" cy="202.67" r="0.85"/><circle cx="148.32" cy="221.39" r="0.85"/><circle cx="152.11" cy="209.03" r="0.85"/><circle cx="144.31" cy="174.05" r="0.85"/><circle cx="144.81" cy="181.02" r="0.85"/><circle cx="146.15" cy="209.86" r="0.85"/><circle cx="148.17" cy="226.96" r="0.85"/><circle cx="153.31" cy="175.11" r="0.85"/><circle cx="149.8" cy="199.24" r="0.85"/><circle cx="148.99" cy="222.09" r="0.85"/><circle cx="147.91" cy="213.12" r="0.85"/><circle cx="144.73" cy="219.55" r="0.85"/><circle cx="140.81" cy="177.15" r="0.85"/><circle cx="148.72" cy="194.11" r="0.85"/><circle cx="149.25" cy="166.15" r="0.85"/><circle cx="152.61" cy="216.52" r="0.85"/><circle cx="147.09" cy="215.28" r="0.85"/><circle cx="147.81" cy="225.88" r="0.85"/><circle cx="150.51" cy="177.17" r="0.85"/><circle cx="152.98" cy="205.25" r="0.85"/><circle cx="148.8" cy="176.43" r="0.85"/><circle cx="145.83" cy="226.9" r="0.85"/><circle cx="137.24" cy="222.08" r="0.85"/><circle cx="155.58" cy="225.05" r="0.85"/><circle cx="145.51" cy="206.4" r="0.85"/><circle cx="143.92" cy="175.09" r="0.85"/><circle cx="152.8" cy="223.2" r="0.85"/><circle cx="142.47" cy="215.35" r="0.85"/><circle cx="151.07" cy="203.78" r="0.85"/><circle cx="153.41" cy="213.51" r="0.85"/><circle cx="144.08" cy="184.4" r="0.85"/><circle cx="142.01" cy="170.63" r="0.85"/><circle cx="139.15" cy="223.13" r="0.85"/><circle cx="149.76" cy="203.62" r="0.85"/><circle cx="155.92" cy="211.33" r="0.85"/><circle cx="153.02" cy="219.36" r="0.85"/><circle cx="143.57" cy="219.48" r="0.85"/><circle cx="147.63" cy="167.12" r="0.85"/><circle cx="146.66" cy="186.89" r="0.85"/><circle cx="151" cy="191.73" r="0.85"/><circle cx="148.96" cy="213.17" r="0.85"/><circle cx="149.45" cy="208.77" r="0.85"/><circle cx="143.04" cy="168.46" r="0.85"/><circle cx="146.91" cy="216.54" r="0.85"/><circle cx="148.14" cy="177.28" r="0.85"/><circle cx="142.97" cy="178.37" r="0.85"/><circle cx="144.98" cy="223.86" r="0.85"/><circle cx="149.33" cy="219.18" r="0.85"/><circle cx="146.97" cy="200.43" r="0.85"/><circle cx="152.43" cy="212.19" r="0.85"/><circle cx="146.64" cy="206.16" r="0.85"/><circle cx="140.92" cy="213.36" r="0.85"/><circle cx="151.33" cy="226.39" r="0.85"/><circle cx="142.84" cy="176.41" r="0.85"/><circle cx="154.34" cy="169.4" r="0.85"/><circle cx="143.89" cy="167.59" r="0.85"/><circle cx="147.78" cy="170.34" r="0.85"/><circle cx="149.28" cy="200.22" r="0.85"/><circle cx="143.99" cy="225.91" r="0.85"/><circle cx="141.44" cy="215.53" r="0.85"/><circle cx="142.82" cy="171.88" r="0.85"/><circle cx="146.62" cy="226.1" r="0.85"/><circle cx="152.02" cy="184.87" r="0.85"/><circle cx="140.89" cy="220.14" r="0.85"/><circle cx="150.4" cy="195.64" r="0.85"/><circle cx="143.86" cy="210.26" r="0.85"/><circle cx="142.77" cy="174.81" r="0.85"/><circle cx="138.99" cy="221.17" r="0.85"/><circle cx="148.25" cy="179.43" r="0.85"/><circle cx="152.25" cy="172.58" r="0.85"/><circle cx="152.08" cy="217.6" r="0.85"/><circle cx="145.4" cy="166.28" r="0.85"/><circle cx="152.62" cy="223.95" r="0.85"/><circle cx="151.62" cy="207.72" r="0.85"/><circle cx="148.46" cy="208.57" r="0.85"/><circle cx="140.59" cy="172.85" r="0.85"/><circle cx="141.68" cy="171.44" r="0.85"/><circle cx="146.99" cy="166.39" r="0.85"/><circle cx="155.93" cy="167.2" r="0.85"/><circle cx="138.6" cy="220.24" r="0.85"/><circle cx="141.93" cy="206.2" r="0.85"/><circle cx="155.9" cy="213.49" r="0.85"/><circle cx="147.63" cy="191.98" r="0.85"/><circle cx="151.79" cy="174.79" r="0.85"/><circle cx="145.2" cy="226.34" r="0.85"/><circle cx="139.12" cy="217.6" r="0.85"/><circle cx="148.17" cy="207.59" r="0.85"/><circle cx="154.94" cy="171.31" r="0.85"/><circle cx="141.86" cy="172.42" r="0.85"/><circle cx="139.34" cy="221.98" r="0.85"/><circle cx="142.45" cy="225.07" r="0.85"/><circle cx="149.84" cy="214.19" r="0.85"/><circle cx="150.71" cy="200.08" r="0.85"/><circle cx="149.99" cy="197.87" r="0.85"/><circle cx="151.38" cy="180.83" r="0.85"/><circle cx="145.14" cy="178.34" r="0.85"/><circle cx="153.27" cy="178.41" r="0.85"/><circle cx="141.49" cy="167" r="0.85"/><circle cx="145.67" cy="189.22" r="0.85"/><circle cx="151.87" cy="218.37" r="0.85"/><circle cx="154.8" cy="221.72" r="0.85"/><circle cx="143.67" cy="214.36" r="0.85"/><circle cx="147.68" cy="221.98" r="0.85"/><circle cx="145.84" cy="205.11" r="0.85"/><circle cx="155.3" cy="223.27" r="0.85"/><circle cx="148.94" cy="173.73" r="0.85"/><circle cx="152.81" cy="176.27" r="0.85"/><circle cx="146.32" cy="169.46" r="0.85"/><circle cx="150.82" cy="218.35" r="0.85"/><circle cx="149.12" cy="188.25" r="0.85"/><circle cx="155.86" cy="172.57" r="0.85"/><circle cx="151.7" cy="177.44" r="0.85"/><circle cx="147.19" cy="208.67" r="0.85"/><circle cx="144.1" cy="176.26" r="0.85"/><circle cx="145.09" cy="202.81" r="0.85"/><circle cx="152.23" cy="210.09" r="0.85"/><circle cx="143.01" cy="222.01" r="0.85"/><circle cx="149.89" cy="196.44" r="0.85"/><circle cx="155.97" cy="221.8" r="0.85"/><circle cx="140.09" cy="221.36" r="0.85"/><circle cx="146.64" cy="221.89" r="0.85"/><circle cx="141.69" cy="214.22" r="0.85"/><circle cx="148.59" cy="203.56" r="0.85"/><circle cx="145.45" cy="171.66" r="0.85"/><circle cx="147.85" cy="216.7" r="0.85"/><circle cx="146.74" cy="167.96" r="0.85"/><circle cx="155.16" cy="224.13" r="0.85"/><circle cx="145.79" cy="224.79" r="0.85"/><circle cx="150.94" cy="178.23" r="0.85"/><circle cx="149.3" cy="186.96" r="0.85"/><circle cx="150.5" cy="167.95" r="0.85"/><circle cx="153.77" cy="216.45" r="0.85"/><circle cx="154.85" cy="172.82" r="0.85"/><circle cx="147.42" cy="197.61" r="0.85"/><circle cx="148.89" cy="178.2" r="0.85"/><circle cx="144.71" cy="225.01" r="0.85"/><circle cx="142" cy="219.98" r="0.85"/><circle cx="153.5" cy="222" r="0.85"/><circle cx="147.82" cy="188.49" r="0.85"/><circle cx="147.26" cy="193.29" r="0.85"/><circle cx="143.57" cy="220.93" r="0.85"/><circle cx="140.29" cy="168.01" r="0.85"/><circle cx="152.16" cy="169.35" r="0.85"/><circle cx="149.27" cy="207.22" r="0.85"/><circle cx="147.06" cy="177.41" r="0.85"/><circle cx="146.55" cy="204.07" r="0.85"/><circle cx="143.9" cy="180.83" r="0.85"/><circle cx="144.33" cy="172.93" r="0.85"/><circle cx="148.24" cy="219.49" r="0.85"/><circle cx="145.48" cy="222.75" r="0.85"/><circle cx="147.66" cy="186" r="0.85"/><circle cx="147.72" cy="193.95" r="0.85"/><circle cx="150.29" cy="185.6" r="0.85"/><circle cx="151.06" cy="212.15" r="0.85"/><circle cx="154.61" cy="217.24" r="0.85"/><circle cx="149.24" cy="201.49" r="0.85"/><circle cx="142.68" cy="181.06" r="0.85"/><circle cx="152.47" cy="171.57" r="0.85"/><circle cx="146.48" cy="178.76" r="0.85"/><circle cx="151.39" cy="220.28" r="0.85"/><circle cx="146.63" cy="223.09" r="0.85"/><circle cx="153.75" cy="220.17" r="0.85"/><circle cx="141.71" cy="176.38" r="0.85"/><circle cx="144.1" cy="181.95" r="0.85"/><circle cx="151.19" cy="217.61" r="0.85"/><circle cx="144.93" cy="185.72" r="0.85"/><circle cx="149.61" cy="193.1" r="0.85"/><circle cx="153.43" cy="217.33" r="0.85"/><circle cx="145.09" cy="201.17" r="0.85"/><circle cx="146.5" cy="175.96" r="0.85"/><circle cx="143.73" cy="212.33" r="0.85"/><circle cx="139.49" cy="172.68" r="0.85"/><circle cx="152.69" cy="177.12" r="0.85"/><circle cx="144.39" cy="183.43" r="0.85"/><circle cx="145.65" cy="220.25" r="0.85"/><circle cx="146.73" cy="182.25" r="0.85"/><circle cx="142.39" cy="224.08" r="0.85"/><circle cx="141.79" cy="178.39" r="0.85"/><circle cx="144.34" cy="168.11" r="0.85"/><circle cx="150.18" cy="213.47" r="0.85"/><circle cx="145.14" cy="212.28" r="0.85"/><circle cx="150.1" cy="173.53" r="0.85"/><circle cx="152.35" cy="222.26" r="0.85"/><circle cx="144.57" cy="216.46" r="0.85"/><circle cx="142.79" cy="217.47" r="0.85"/><circle cx="148.78" cy="202.59" r="0.85"/><circle cx="153.77" cy="173.69" r="0.85"/><circle cx="141.06" cy="218.16" r="0.85"/><circle cx="145.4" cy="181.95" r="0.85"/><circle cx="154.63" cy="218.51" r="0.85"/><circle cx="149.49" cy="205.13" r="0.85"/><circle cx="150.86" cy="199.08" r="0.85"/><circle cx="148.2" cy="224.71" r="0.85"/><circle cx="151.61" cy="183.59" r="0.85"/><circle cx="146.66" cy="220.17" r="0.85"/><circle cx="141.41" cy="169.16" r="0.85"/><circle cx="148.4" cy="204.74" r="0.85"/><circle cx="145.19" cy="169.42" r="0.85"/><circle cx="147.36" cy="174.84" r="0.85"/><circle cx="146.67" cy="170.23" r="0.85"/><circle cx="142.51" cy="214.31" r="0.85"/><circle cx="152.38" cy="203.95" r="0.85"/><circle cx="146.14" cy="190.39" r="0.85"/><circle cx="154.59" cy="213.14" r="0.85"/><circle cx="146.38" cy="217.56" r="0.85"/><circle cx="146.92" cy="189.31" r="0.85"/><circle cx="146.95" cy="227.11" r="0.85"/><circle cx="149.1" cy="189.25" r="0.85"/><circle cx="148.31" cy="215.67" r="0.85"/><circle cx="149.05" cy="216.2" r="0.85"/><circle cx="151.15" cy="172.91" r="0.85"/><circle cx="148.17" cy="184.63" r="0.85"/><circle cx="146.87" cy="183.44" r="0.85"/><circle cx="148.27" cy="196.61" r="0.85"/><circle cx="144.36" cy="207.23" r="0.85"/><circle cx="150.79" cy="215.16" r="0.85"/><circle cx="147.96" cy="168.38" r="0.85"/><circle cx="142.86" cy="223.29" r="0.85"/><circle cx="149.1" cy="210.93" r="0.85"/><circle cx="146.69" cy="228.17" r="0.85"/><circle cx="145.34" cy="168.21" r="0.85"/><circle cx="153.93" cy="212.26" r="0.85"/><circle cx="149.04" cy="185.56" r="0.85"/><circle cx="139.64" cy="220.29" r="0.85"/><circle cx="149.87" cy="212.37" r="0.85"/><circle cx="144.5" cy="177.02" r="0.85"/><circle cx="150.2" cy="176.36" r="0.85"/><circle cx="145.31" cy="203.93" r="0.85"/><circle cx="154.03" cy="226.36" r="0.85"/><circle cx="147.58" cy="217.13" r="0.85"/><circle cx="145.42" cy="222.06" r="0.85"/><circle cx="146.56" cy="167.32" r="0.85"/><circle cx="141.04" cy="219.04" r="0.85"/><circle cx="145.72" cy="187.18" r="0.85"/><circle cx="153.51" cy="223.86" r="0.85"/><circle cx="155.64" cy="175.1" r="0.85"/><circle cx="142.89" cy="172.67" r="0.85"/><circle cx="150.49" cy="189.6" r="0.85"/><circle cx="153.67" cy="172.44" r="0.85"/><circle cx="147.08" cy="220.87" r="0.85"/><circle cx="150.42" cy="182.07" r="0.85"/><circle cx="145.43" cy="173.87" r="0.85"/><circle cx="147.77" cy="201.21" r="0.85"/><circle cx="143.58" cy="179.43" r="0.85"/><circle cx="136" cy="221.99" r="0.85"/><circle cx="148.84" cy="181.25" r="0.85"/><circle cx="150.25" cy="207.66" r="0.85"/><circle cx="151.23" cy="176.18" r="0.85"/><circle cx="146.71" cy="184.34" r="0.85"/><circle cx="146.38" cy="171.89" r="0.85"/><circle cx="153.53" cy="171.77" r="0.85"/><circle cx="154.3" cy="214.57" r="0.85"/><circle cx="140.41" cy="217.3" r="0.85"/><circle cx="148.77" cy="209.79" r="0.85"/><circle cx="151.51" cy="166.13" r="0.85"/><circle cx="147.97" cy="173.53" r="0.85"/><circle cx="149.73" cy="215.64" r="0.85"/><circle cx="146.96" cy="219.26" r="0.85"/><circle cx="152.84" cy="166.55" r="0.85"/><circle cx="157.56" cy="219.41" r="0.85"/><circle cx="142.28" cy="218.15" r="0.85"/><circle cx="143.71" cy="223.77" r="0.85"/><circle cx="151.71" cy="204.91" r="0.85"/><circle cx="148.91" cy="172.69" r="0.85"/><circle cx="151.24" cy="211.11" r="0.85"/><circle cx="149.57" cy="175.18" r="0.85"/><circle cx="149.51" cy="218.34" r="0.85"/><circle cx="146.81" cy="194.21" r="0.85"/><circle cx="151.74" cy="181.96" r="0.85"/><circle cx="141.41" cy="174.92" r="0.85"/><circle cx="142.05" cy="177.1" r="0.85"/><circle cx="145.82" cy="179.44" r="0.85"/><circle cx="149.99" cy="194.36" r="0.85"/><circle cx="151.3" cy="213.23" r="0.85"/><circle cx="144.26" cy="170.59" r="0.85"/><circle cx="153.31" cy="167.18" r="0.85"/><circle cx="156.54" cy="225.13" r="0.85"/><circle cx="143.67" cy="215.16" r="0.85"/><circle cx="150.56" cy="183.52" r="0.85"/><circle cx="136.71" cy="221.34" r="0.85"/><circle cx="148.72" cy="227.92" r="0.85"/><circle cx="152.58" cy="226.35" r="0.85"/><circle cx="150.62" cy="175.14" r="0.85"/><circle cx="150.83" cy="202.36" r="0.85"/><circle cx="148.2" cy="166.07" r="0.85"/><circle cx="149.99" cy="221.97" r="0.85"/><circle cx="149.02" cy="220.35" r="0.85"/><circle cx="150.85" cy="169.57" r="0.85"/><circle cx="149.37" cy="179.98" r="0.85"/><circle cx="147.06" cy="205.28" r="0.85"/><circle cx="150.53" cy="224.89" r="0.85"/><circle cx="149.23" cy="167.92" r="0.85"/><circle cx="140.93" cy="206.35" r="0.85"/><circle cx="150.11" cy="223.89" r="0.85"/><circle cx="146.85" cy="224.77" r="0.85"/><circle cx="155.65" cy="217.11" r="0.85"/><circle cx="146.62" cy="172.66" r="0.85"/><circle cx="144.53" cy="179.43" r="0.85"/><circle cx="142.09" cy="213.21" r="0.85"/><circle cx="144.57" cy="205.06" r="0.85"/><circle cx="152.24" cy="191.52" r="0.85"/><circle cx="148.73" cy="212.44" r="0.85"/><circle cx="140.48" cy="222.98" r="0.85"/><circle cx="150.96" cy="197.57" r="0.85"/><circle cx="146.12" cy="198.92" r="0.85"/><circle cx="141.22" cy="221.1" r="0.85"/><circle cx="149.3" cy="183.67" r="0.85"/><circle cx="143.26" cy="166.57" r="0.85"/><circle cx="139.28" cy="167.91" r="0.85"/><circle cx="143.31" cy="173.58" r="0.85"/><circle cx="151.61" cy="216.61" r="0.85"/><circle cx="142.45" cy="219.45" r="0.85"/><circle cx="146.71" cy="173.6" r="0.85"/><circle cx="150.5" cy="166.34" r="0.85"/><circle cx="150.04" cy="171.47" r="0.85"/><circle cx="156.39" cy="206.23" r="0.85"/><circle cx="153.38" cy="218.52" r="0.85"/><circle cx="152.45" cy="170.43" r="0.85"/><circle cx="145.99" cy="221.07" r="0.85"/><circle cx="146.76" cy="207.56" r="0.85"/><circle cx="140.36" cy="174.78" r="0.85"/><circle cx="145.5" cy="216.22" r="0.85"/><circle cx="150.36" cy="206.56" r="0.85"/><circle cx="145.43" cy="187.96" r="0.85"/><circle cx="150.12" cy="167.54" r="0.85"/><circle cx="150.21" cy="216.37" r="0.85"/><circle cx="152.14" cy="178.79" r="0.85"/><circle cx="141.09" cy="211.04" r="0.85"/><circle cx="143.86" cy="169.47" r="0.85"/><circle cx="137.91" cy="219.5" r="0.85"/><circle cx="147.33" cy="212.31" r="0.85"/><circle cx="145.07" cy="217.1" r="0.85"/><circle cx="141.93" cy="221.91" r="0.85"/><circle cx="154.18" cy="174.77" r="0.85"/><circle cx="145.43" cy="184.71" r="0.85"/><circle cx="149.93" cy="180.97" r="0.85"/><circle cx="148.5" cy="190.4" r="0.85"/><circle cx="141.61" cy="217.4" r="0.85"/><circle cx="139.77" cy="173.53" r="0.85"/><circle cx="150.53" cy="219.94" r="0.85"/><circle cx="147.66" cy="171.55" r="0.85"/><circle cx="151.7" cy="200.26" r="0.85"/><circle cx="146.78" cy="211.15" r="0.85"/><circle cx="154.18" cy="168.23" r="0.85"/><circle cx="149.71" cy="227.87" r="0.85"/><circle cx="153.58" cy="211.29" r="0.85"/><circle cx="145.97" cy="219.32" r="0.85"/><circle cx="151.17" cy="170.22" r="0.85"/><circle cx="153.31" cy="221.3" r="0.85"/><circle cx="150.46" cy="184.51" r="0.85"/><circle cx="138.83" cy="219.55" r="0.85"/><circle cx="146.25" cy="181.04" r="0.85"/><circle cx="159.13" cy="168" r="0.85"/><circle cx="150.7" cy="187.26" r="0.85"/><circle cx="153.02" cy="208.51" r="0.85"/><circle cx="149.35" cy="227.37" r="0.85"/><circle cx="144.74" cy="215.53" r="0.85"/><circle cx="151.98" cy="179.72" r="0.85"/><circle cx="141.78" cy="222.97" r="0.85"/><circle cx="148.72" cy="191.51" r="0.85"/><circle cx="147.38" cy="202.72" r="0.85"/><circle cx="145.23" cy="213.13" r="0.85"/><circle cx="145.6" cy="210.9" r="0.85"/><circle cx="141.01" cy="173.63" r="0.85"/><circle cx="142.97" cy="167.13" r="0.85"/><circle cx="142.44" cy="212.54" r="0.85"/><circle cx="157.24" cy="213.53" r="0.85"/><circle cx="149.65" cy="202.42" r="0.85"/><circle cx="145.34" cy="167.17" r="0.85"/><circle cx="146.72" cy="213.4" r="0.85"/><circle cx="148.78" cy="170.28" r="0.85"/><circle cx="148.13" cy="189.24" r="0.85"/><circle cx="150.13" cy="210.92" r="0.85"/><circle cx="147.34" cy="214.51" r="0.85"/><circle cx="149.26" cy="195.5" r="0.85"/><circle cx="143.12" cy="182.09" r="0.85"/><circle cx="150.66" cy="179.71" r="0.85"/><circle cx="144.74" cy="218.28" r="0.85"/><circle cx="152.17" cy="221.24" r="0.85"/><circle cx="148.71" cy="198.04" r="0.85"/><circle cx="147.12" cy="196.67" r="0.85"/><circle cx="149.12" cy="226.32" r="0.85"/><circle cx="148.54" cy="193.25" r="0.85"/><circle cx="154.92" cy="211.12" r="0.85"/><circle cx="148.57" cy="218.51" r="0.85"/><circle cx="147.92" cy="181.94" r="0.85"/><circle cx="145.36" cy="172.41" r="0.85"/><circle cx="146.82" cy="188.15" r="0.85"/><circle cx="152.17" cy="167.09" r="0.85"/><circle cx="148.48" cy="214.44" r="0.85"/><circle cx="151.79" cy="219.13" r="0.85"/><circle cx="148.92" cy="167.41" r="0.85"/><circle cx="152.25" cy="211.08" r="0.85"/><circle cx="149.51" cy="224.9" r="0.85"/><circle cx="153.85" cy="176.18" r="0.85"/><circle cx="134.42" cy="220.95" r="0.85"/><circle cx="140.67" cy="221.76" r="0.85"/><circle cx="145.02" cy="208.63" r="0.85"/><circle cx="149.66" cy="217.22" r="0.85"/><circle cx="150.59" cy="227.25" r="0.85"/><circle cx="154.26" cy="166.1" r="0.85"/><circle cx="148.43" cy="198.86" r="0.85"/><circle cx="147.06" cy="218.67" r="0.85"/><circle cx="147.52" cy="209.92" r="0.85"/><circle cx="153.73" cy="222.96" r="0.85"/><circle cx="145.53" cy="207.67" r="0.85"/><circle cx="146.24" cy="197.5" r="0.85"/><circle cx="154.99" cy="220.1" r="0.85"/><circle cx="144.04" cy="171.88" r="0.85"/><circle cx="156.47" cy="222.9" r="0.85"/><circle cx="150.73" cy="219.04" r="0.85"/><circle cx="147.61" cy="178.46" r="0.85"/><circle cx="148.08" cy="219.92" r="0.85"/><circle cx="157.93" cy="221.09" r="0.85"/><circle cx="145.42" cy="200.24" r="0.85"/><circle cx="147.56" cy="190.59" r="0.85"/><circle cx="144.34" cy="220.12" r="0.85"/><circle cx="143.35" cy="206.31" r="0.85"/><circle cx="144.83" cy="175.1" r="0.85"/><circle cx="143.23" cy="211.34" r="0.85"/><circle cx="154.06" cy="224.75" r="0.85"/><circle cx="152.66" cy="220.29" r="0.85"/><circle cx="151.48" cy="173.95" r="0.85"/><circle cx="149.13" cy="222.79" r="0.85"/><circle cx="146.61" cy="201.46" r="0.85"/><circle cx="149.4" cy="206.32" r="0.85"/><circle cx="153.08" cy="169.33" r="0.85"/><circle cx="144.46" cy="166.55" r="0.85"/><circle cx="156.61" cy="219.47" r="0.85"/><circle cx="143.24" cy="177.14" r="0.85"/><circle cx="156.34" cy="167.95" r="0.85"/><circle cx="153.03" cy="226.86" r="0.85"/><circle cx="145.34" cy="191.69" r="0.85"/><circle cx="144.22" cy="211.19" r="0.85"/><circle cx="155.02" cy="173.79" r="0.85"/><circle cx="157.56" cy="168.31" r="0.85"/><circle cx="152.02" cy="214.64" r="0.85"/><circle cx="149.95" cy="191.85" r="0.85"/><circle cx="155.76" cy="170.44" r="0.85"/><circle cx="142.93" cy="170.3" r="0.85"/><circle cx="139.75" cy="224.95" r="0.85"/><circle cx="146.07" cy="224.17" r="0.85"/><circle cx="140.4" cy="215.33" r="0.85"/><circle cx="148.63" cy="174.99" r="0.85"/><circle cx="145.06" cy="214.49" r="0.85"/><circle cx="151.45" cy="206.21" r="0.85"/><circle cx="155.01" cy="216.31" r="0.85"/><circle cx="143.6" cy="209.08" r="0.85"/><circle cx="153.67" cy="170.55" r="0.85"/><circle cx="149.44" cy="177.07" r="0.85"/><circle cx="152.35" cy="180.89" r="0.85"/><circle cx="151.48" cy="168.27" r="0.85"/><circle cx="152.6" cy="213.17" r="0.85"/><circle cx="155.26" cy="219.19" r="0.85"/><circle cx="154.69" cy="170.74" r="0.85"/><circle cx="154.43" cy="220.95" r="0.85"/><circle cx="145.34" cy="170.61" r="0.85"/><circle cx="139.5" cy="213.26" r="0.85"/><circle cx="142.49" cy="221.12" r="0.85"/><circle cx="147.85" cy="206.29" r="0.85"/><circle cx="142.1" cy="174.07" r="0.85"/><circle cx="147.61" cy="204.08" r="0.85"/><circle cx="137.8" cy="223" r="0.85"/><circle cx="146.04" cy="214.18" r="0.85"/><circle cx="154.23" cy="215.16" r="0.85"/><circle cx="151.65" cy="201.39" r="0.85"/><circle cx="156.98" cy="217.45" r="0.85"/><circle cx="150.05" cy="170.31" r="0.85"/><circle cx="147.58" cy="176.02" r="0.85"/><circle cx="151.39" cy="223.73" r="0.85"/><circle cx="148.82" cy="224.03" r="0.85"/><circle cx="153.19" cy="214.5" r="0.85"/><circle cx="147.77" cy="223.17" r="0.85"/><circle cx="147.97" cy="183.59" r="0.85"/><circle cx="155.02" cy="206.15" r="0.85"/><circle cx="147.22" cy="195.26" r="0.85"/><circle cx="151.04" cy="167.22" r="0.85"/><circle cx="150.61" cy="188.43" r="0.85"/><circle cx="143.46" cy="225.1" r="0.85"/><circle cx="147.43" cy="198.83" r="0.85"/><circle cx="140.68" cy="171.53" r="0.85"/><circle cx="149.36" cy="181.93" r="0.85"/><circle cx="143.44" cy="218.1" r="0.85"/><circle cx="140.83" cy="170.66" r="0.85"/><circle cx="153" cy="207.75" r="0.85"/><circle cx="144.75" cy="209.81" r="0.85"/><circle cx="156.49" cy="220.91" r="0.85"/><circle cx="150.21" cy="223.07" r="0.85"/><circle cx="154.12" cy="206.22" r="0.85"/><circle cx="139.68" cy="170.45" r="0.85"/><circle cx="144.23" cy="206.25" r="0.85"/><circle cx="142.85" cy="169.52" r="0.85"/><circle cx="139.09" cy="175.15" r="0.85"/><circle cx="151.23" cy="171.37" r="0.85"/><circle cx="150.59" cy="201.54" r="0.85"/><circle cx="148.19" cy="195.14" r="0.85"/><circle cx="135.53" cy="221.15" r="0.85"/><circle cx="156.84" cy="215.38" r="0.85"/><circle cx="150.47" cy="204.77" r="0.85"/><circle cx="152.95" cy="168.1" r="0.85"/><circle cx="153.57" cy="209.92" r="0.85"/><circle cx="147.66" cy="228.23" r="0.85"/><circle cx="146.38" cy="202.86" r="0.85"/><circle cx="154.46" cy="209.08" r="0.85"/><circle cx="137.21" cy="220.2" r="0.85"/><circle cx="143.18" cy="216.38" r="0.85"/><circle cx="151.52" cy="223.28" r="0.85"/><circle cx="150.62" cy="220.87" r="0.85"/><circle cx="145.87" cy="177.22" r="0.85"/><circle cx="147" cy="179.64" r="0.85"/><circle cx="155.49" cy="215.66" r="0.85"/><circle cx="148.23" cy="186.98" r="0.85"/><circle cx="154" cy="204.87" r="0.85"/><circle cx="150.6" cy="208.73" r="0.85"/><circle cx="145.68" cy="183.49" r="0.85"/><circle cx="149.77" cy="190.73" r="0.85"/><circle cx="146" cy="174.77" r="0.85"/><circle cx="136.36" cy="219.33" r="0.85"/><circle cx="142.95" cy="213.13" r="0.85"/><circle cx="138.13" cy="168.12" r="0.85"/><circle cx="140.89" cy="224.84" r="0.85"/><circle cx="148.17" cy="200.15" r="0.85"/><circle cx="151.83" cy="224.83" r="0.85"/><circle cx="154.71" cy="167" r="0.85"/><circle cx="143.99" cy="223.13" r="0.85"/><circle cx="151.89" cy="226.82" r="0.85"/><circle cx="148.64" cy="217.39" r="0.85"/><circle cx="152.78" cy="173.58" r="0.85"/><circle cx="149.14" cy="184.33" r="0.85"/><circle cx="141.89" cy="168.02" r="0.85"/><circle cx="144.1" cy="203.99" r="0.85"/><circle cx="139.9" cy="219.09" r="0.85"/><circle cx="152.95" cy="215.44" r="0.85"/><circle cx="146.22" cy="185.51" r="0.85"/><circle cx="137.99" cy="220.98" r="0.85"/><circle cx="153.08" cy="179.59" r="0.85"/><circle cx="155.36" cy="220.96" r="0.85"/><circle cx="151.35" cy="221.82" r="0.85"/><circle cx="151.22" cy="209.75" r="0.85"/><circle cx="144.22" cy="178.63" r="0.85"/><circle cx="143.32" cy="207.61" r="0.85"/><circle cx="150.19" cy="172.63" r="0.85"/><circle cx="152.93" cy="206" r="0.85"/><circle cx="144.36" cy="213.44" r="0.85"/><circle cx="144.34" cy="221.88" r="0.85"/><circle cx="147.71" cy="172.82" r="0.85"/><circle cx="146.48" cy="192.02" r="0.85"/><circle cx="144.54" cy="227.01" r="0.85"/><circle cx="143.2" cy="220.43" r="0.85"/><circle cx="148.5" cy="169.29" r="0.85"/><circle cx="150.66" cy="193.18" r="0.85"/><circle cx="147.46" cy="181.08" r="0.85"/><circle cx="149.91" cy="210.28" r="0.85"/><circle cx="138.36" cy="221.75" r="0.85"/><circle cx="154.03" cy="207.8" r="0.85"/><circle cx="143.58" cy="204.93" r="0.85"/><circle cx="142.08" cy="211.06" r="0.85"/><circle cx="144.01" cy="217.2" r="0.85"/><circle cx="142.33" cy="179.69" r="0.85"/><circle cx="146.25" cy="212.6" r="0.85"/><circle cx="146.18" cy="193.12" r="0.85"/><circle cx="145.98" cy="208.66" r="0.85"/><circle cx="150.74" cy="214.4" r="0.85"/><circle cx="155.16" cy="168.09" r="0.85"/></g><g fill="#6ad884"><circle cx="153.42" cy="166.66" r="0.47"/><circle cx="148.47" cy="166.62" r="0.32"/><circle cx="156.63" cy="167.11" r="0.36"/><circle cx="137.08" cy="167.8" r="0.5"/><circle cx="137.56" cy="167.65" r="0.37"/><circle cx="158.24" cy="167.41" r="0.45"/><circle cx="147.31" cy="167.35" r="0.36"/><circle cx="130.56" cy="168.26" r="0.45"/><circle cx="161.75" cy="168.19" r="0.38"/><circle cx="145.42" cy="167.91" r="0.39"/><circle cx="140.63" cy="168.56" r="0.53"/><circle cx="135.49" cy="168.23" r="0.32"/><circle cx="167.07" cy="168.34" r="0.41"/><circle cx="162.53" cy="167.84" r="0.37"/><circle cx="157.86" cy="168.06" r="0.39"/><circle cx="168.41" cy="168.27" r="0.35"/><circle cx="132.2" cy="168.93" r="0.47"/><circle cx="150.74" cy="169.67" r="0.52"/><circle cx="130.84" cy="169.11" r="0.33"/><circle cx="164.73" cy="169.14" r="0.49"/><circle cx="142.27" cy="169.2" r="0.36"/><circle cx="150.38" cy="169.75" r="0.55"/><circle cx="148.95" cy="169.46" r="0.47"/><circle cx="157.58" cy="170.71" r="0.43"/><circle cx="145.51" cy="170.66" r="0.31"/><circle cx="134.79" cy="170.82" r="0.45"/><circle cx="136.74" cy="170.79" r="0.35"/><circle cx="158.27" cy="170.02" r="0.42"/><circle cx="162.09" cy="170.84" r="0.43"/><circle cx="144.3" cy="170.87" r="0.34"/><circle cx="159.21" cy="171.98" r="0.32"/><circle cx="134.94" cy="171.68" r="0.32"/><circle cx="135.41" cy="171.7" r="0.41"/><circle cx="148.47" cy="171.38" r="0.45"/><circle cx="144.81" cy="172.01" r="0.5"/><circle cx="141.65" cy="173.08" r="0.34"/><circle cx="144.24" cy="173" r="0.39"/><circle cx="135.13" cy="172.41" r="0.44"/><circle cx="136.89" cy="172.46" r="0.49"/><circle cx="153.86" cy="172.76" r="0.51"/><circle cx="156.95" cy="174.24" r="0.32"/><circle cx="155.13" cy="173.48" r="0.37"/><circle cx="139.42" cy="174.19" r="0.39"/><circle cx="149.05" cy="174.03" r="0.48"/><circle cx="142.75" cy="175.14" r="0.45"/><circle cx="148.91" cy="175.29" r="0.43"/><circle cx="151.08" cy="174.72" r="0.53"/><circle cx="155.86" cy="175.31" r="0.34"/><circle cx="150.95" cy="176.54" r="0.51"/><circle cx="144.89" cy="176.2" r="0.52"/><circle cx="148.24" cy="176.13" r="0.35"/><circle cx="152.8" cy="176.98" r="0.45"/><circle cx="145.13" cy="177.6" r="0.31"/><circle cx="144.88" cy="178.27" r="0.38"/><circle cx="149.52" cy="178.05" r="0.3"/><circle cx="143.65" cy="179.43" r="0.35"/><circle cx="151.68" cy="180.06" r="0.34"/><circle cx="150.06" cy="180.7" r="0.38"/><circle cx="144.86" cy="180.96" r="0.39"/><circle cx="144.57" cy="181.86" r="0.46"/><circle cx="149.43" cy="183.3" r="0.4"/><circle cx="146.16" cy="184.73" r="0.53"/><circle cx="147.67" cy="186.27" r="0.41"/><circle cx="146.59" cy="187.21" r="0.49"/><circle cx="146.1" cy="188.3" r="0.47"/><circle cx="146.62" cy="189.8" r="0.33"/><circle cx="150.2" cy="190.31" r="0.41"/><circle cx="150.51" cy="191.76" r="0.35"/><circle cx="148.27" cy="193.11" r="0.3"/><circle cx="147.27" cy="198" r="0.38"/><circle cx="148.14" cy="198.6" r="0.43"/><circle cx="150.24" cy="200.25" r="0.39"/><circle cx="147.08" cy="200.99" r="0.34"/><circle cx="152.22" cy="203.08" r="0.53"/><circle cx="146.22" cy="203.35" r="0.35"/><circle cx="149.04" cy="205.39" r="0.49"/><circle cx="144.4" cy="204.58" r="0.47"/><circle cx="146.3" cy="206.06" r="0.37"/><circle cx="140.19" cy="206.42" r="0.39"/><circle cx="150.85" cy="206.45" r="0.31"/><circle cx="147.47" cy="207.83" r="0.48"/><circle cx="152.97" cy="207.35" r="0.45"/><circle cx="146.77" cy="208.85" r="0.5"/><circle cx="152.89" cy="208.46" r="0.41"/><circle cx="144.36" cy="210.36" r="0.43"/><circle cx="145.19" cy="209.95" r="0.45"/><circle cx="147.3" cy="209.75" r="0.36"/><circle cx="145.02" cy="211" r="0.45"/><circle cx="152.7" cy="211.49" r="0.54"/><circle cx="153.41" cy="210.89" r="0.46"/><circle cx="144.85" cy="212.8" r="0.45"/><circle cx="148.03" cy="212.53" r="0.45"/><circle cx="156.25" cy="212.88" r="0.5"/><circle cx="152" cy="212.43" r="0.43"/><circle cx="149.79" cy="213.2" r="0.52"/><circle cx="156.69" cy="213.6" r="0.46"/><circle cx="145.48" cy="212.94" r="0.37"/><circle cx="151.67" cy="213.89" r="0.4"/><circle cx="139.17" cy="213.49" r="0.38"/><circle cx="137.43" cy="214.68" r="0.41"/><circle cx="151.58" cy="214.22" r="0.48"/><circle cx="147.11" cy="214.3" r="0.47"/><circle cx="144.31" cy="214.54" r="0.5"/><circle cx="149.43" cy="213.93" r="0.47"/><circle cx="148.98" cy="214.6" r="0.48"/><circle cx="144.96" cy="215.32" r="0.51"/><circle cx="150.45" cy="215.84" r="0.35"/><circle cx="161.7" cy="214.98" r="0.46"/><circle cx="154.9" cy="215.27" r="0.49"/><circle cx="158.66" cy="215.72" r="0.52"/><circle cx="135.85" cy="215.44" r="0.34"/><circle cx="162.89" cy="216.43" r="0.47"/><circle cx="153.29" cy="215.95" r="0.54"/><circle cx="158.5" cy="216.63" r="0.43"/><circle cx="143.33" cy="216.7" r="0.33"/><circle cx="138.04" cy="216.07" r="0.49"/><circle cx="145.22" cy="216.02" r="0.44"/><circle cx="154.82" cy="216.09" r="0.36"/><circle cx="136.16" cy="217.14" r="0.55"/><circle cx="149.67" cy="217.84" r="0.54"/><circle cx="146.49" cy="217.66" r="0.35"/><circle cx="164.45" cy="217.62" r="0.32"/><circle cx="154.1" cy="217.58" r="0.45"/><circle cx="131.8" cy="217.28" r="0.32"/><circle cx="147.97" cy="217.51" r="0.41"/><circle cx="148.66" cy="217.22" r="0.49"/><circle cx="154.42" cy="218.47" r="0.48"/><circle cx="158.17" cy="217.96" r="0.33"/><circle cx="149.25" cy="218.49" r="0.33"/><circle cx="150.5" cy="218.52" r="0.46"/><circle cx="131.12" cy="218.67" r="0.52"/><circle cx="166.37" cy="218.63" r="0.33"/><circle cx="150.09" cy="218.89" r="0.52"/><circle cx="164.79" cy="218.62" r="0.36"/><circle cx="156.08" cy="219.28" r="0.55"/><circle cx="149.25" cy="219.08" r="0.49"/><circle cx="145.43" cy="219.5" r="0.31"/><circle cx="131.64" cy="219.27" r="0.53"/><circle cx="133.48" cy="219.08" r="0.36"/><circle cx="158.91" cy="219.56" r="0.44"/><circle cx="164.01" cy="218.98" r="0.32"/><circle cx="155.47" cy="219.78" r="0.31"/><circle cx="162.53" cy="219.69" r="0.32"/><circle cx="139.07" cy="220.54" r="0.31"/><circle cx="163.53" cy="220.05" r="0.39"/><circle cx="159.56" cy="220.23" r="0.32"/><circle cx="132.58" cy="220.06" r="0.36"/><circle cx="128.26" cy="220.28" r="0.53"/><circle cx="131.67" cy="220.47" r="0.54"/><circle cx="125.33" cy="220.07" r="0.33"/><circle cx="125.11" cy="220.07" r="0.54"/><circle cx="129.88" cy="220.48" r="0.48"/><circle cx="144.03" cy="220.52" r="0.31"/><circle cx="158.99" cy="220.85" r="0.52"/><circle cx="157.21" cy="221.15" r="0.45"/><circle cx="151.07" cy="221.55" r="0.31"/><circle cx="130.89" cy="221.56" r="0.51"/><circle cx="153.2" cy="220.77" r="0.53"/><circle cx="158.51" cy="221.48" r="0.35"/><circle cx="155.63" cy="220.78" r="0.54"/><circle cx="135.2" cy="221.4" r="0.4"/><circle cx="144.94" cy="221.13" r="0.52"/><circle cx="157.38" cy="220.77" r="0.31"/><circle cx="165.21" cy="222.21" r="0.44"/><circle cx="147.29" cy="221.54" r="0.35"/><circle cx="151.02" cy="222.06" r="0.4"/><circle cx="123.9" cy="221.62" r="0.3"/><circle cx="168.28" cy="222.38" r="0.32"/><circle cx="141.97" cy="222.44" r="0.44"/><circle cx="127.13" cy="222.45" r="0.4"/><circle cx="162.96" cy="222.25" r="0.44"/><circle cx="124.59" cy="222.03" r="0.43"/><circle cx="155.99" cy="222.18" r="0.49"/><circle cx="154.68" cy="222.72" r="0.51"/><circle cx="139.19" cy="223.49" r="0.42"/><circle cx="164.62" cy="222.86" r="0.42"/><circle cx="155.44" cy="223.48" r="0.43"/><circle cx="144.56" cy="222.75" r="0.36"/><circle cx="142.59" cy="223.34" r="0.5"/><circle cx="138.57" cy="222.55" r="0.3"/><circle cx="154.64" cy="222.86" r="0.42"/><circle cx="137.94" cy="223.68" r="0.48"/><circle cx="143.32" cy="223.65" r="0.49"/><circle cx="142.26" cy="224.38" r="0.5"/><circle cx="137.14" cy="223.67" r="0.55"/><circle cx="142.4" cy="223.91" r="0.53"/><circle cx="147.48" cy="223.94" r="0.34"/><circle cx="148.36" cy="224.65" r="0.54"/><circle cx="143.34" cy="225.31" r="0.52"/><circle cx="154.02" cy="224.97" r="0.51"/><circle cx="139.47" cy="224.61" r="0.51"/><circle cx="151.3" cy="225.62" r="0.47"/><circle cx="145.14" cy="225.91" r="0.33"/><circle cx="151.63" cy="226.16" r="0.48"/><circle cx="146.98" cy="226.62" r="0.31"/></g>
<g fill="#f43a40" stroke="#dc252b" stroke-width="0.3"><circle cx="233.41" cy="166.97" r="0.55"/><circle cx="234.2" cy="167.12" r="0.55"/><circle cx="234.98" cy="167.16" r="0.55"/><circle cx="235.77" cy="166.98" r="0.55"/><circle cx="236.56" cy="167.05" r="0.55"/><circle cx="237.34" cy="167.18" r="0.55"/><circle cx="238.13" cy="167.12" r="0.55"/><circle cx="238.92" cy="167.21" r="0.55"/><circle cx="239.7" cy="167.2" r="0.55"/><circle cx="240.49" cy="167.07" r="0.55"/><circle cx="241.28" cy="166.98" r="0.55"/><circle cx="242.06" cy="167.15" r="0.55"/><circle cx="242.85" cy="167.21" r="0.55"/><circle cx="243.64" cy="167.17" r="0.55"/><circle cx="244.42" cy="167.11" r="0.55"/><circle cx="245.21" cy="167.2" r="0.55"/><circle cx="246" cy="167.22" r="0.55"/><circle cx="246.78" cy="167.09" r="0.55"/><circle cx="247.57" cy="167.07" r="0.55"/><circle cx="248.36" cy="167.17" r="0.55"/><circle cx="249.14" cy="166.95" r="0.55"/><circle cx="249.93" cy="167" r="0.55"/><circle cx="250.72" cy="167.13" r="0.55"/><circle cx="251.51" cy="166.98" r="0.55"/><circle cx="252.29" cy="166.96" r="0.55"/><circle cx="253.08" cy="166.95" r="0.55"/><circle cx="253.87" cy="167.16" r="0.55"/><circle cx="254.65" cy="167.03" r="0.55"/><circle cx="255.44" cy="167.14" r="0.55"/><circle cx="323.18" cy="167.15" r="0.55"/><circle cx="323.97" cy="167.19" r="0.55"/><circle cx="324.76" cy="167.1" r="0.55"/><circle cx="325.54" cy="167.04" r="0.55"/><circle cx="326.33" cy="167.18" r="0.55"/><circle cx="327.12" cy="166.97" r="0.55"/><circle cx="327.9" cy="167.25" r="0.55"/><circle cx="328.69" cy="167.23" r="0.55"/><circle cx="329.48" cy="167.14" r="0.55"/><circle cx="330.26" cy="166.98" r="0.55"/><circle cx="331.05" cy="167.23" r="0.55"/><circle cx="331.84" cy="167.09" r="0.55"/><circle cx="332.63" cy="167.24" r="0.55"/><circle cx="333.41" cy="167.08" r="0.55"/><circle cx="334.2" cy="167.16" r="0.55"/><circle cx="334.99" cy="167.01" r="0.55"/><circle cx="335.77" cy="167.24" r="0.55"/><circle cx="336.56" cy="167.1" r="0.55"/><circle cx="337.35" cy="167.15" r="0.55"/><circle cx="338.13" cy="167.13" r="0.55"/><circle cx="338.92" cy="167.1" r="0.55"/><circle cx="339.71" cy="167.09" r="0.55"/><circle cx="340.49" cy="167.07" r="0.55"/><circle cx="341.28" cy="167.21" r="0.55"/><circle cx="342.07" cy="166.98" r="0.55"/><circle cx="342.85" cy="166.97" r="0.55"/><circle cx="343.64" cy="167.21" r="0.55"/><circle cx="344.43" cy="167.16" r="0.55"/><circle cx="345.21" cy="167.17" r="0.55"/><circle cx="256.95" cy="168.3" r="0.55"/><circle cx="257.74" cy="168.14" r="0.55"/><circle cx="258.54" cy="168.08" r="0.55"/><circle cx="259.33" cy="168.26" r="0.55"/><circle cx="260.12" cy="168.29" r="0.55"/><circle cx="260.91" cy="168.15" r="0.55"/><circle cx="261.7" cy="168.2" r="0.55"/><circle cx="262.5" cy="168.29" r="0.55"/><circle cx="263.29" cy="168.26" r="0.55"/><circle cx="264.08" cy="168.16" r="0.55"/><circle cx="264.87" cy="168.12" r="0.55"/><circle cx="265.66" cy="168.16" r="0.55"/><circle cx="266.46" cy="168.1" r="0.55"/><circle cx="267.25" cy="168.08" r="0.55"/><circle cx="268.04" cy="168.08" r="0.55"/><circle cx="268.83" cy="168.26" r="0.55"/><circle cx="269.62" cy="168.14" r="0.55"/><circle cx="309.3" cy="168.3" r="0.55"/><circle cx="310.09" cy="168.13" r="0.55"/><circle cx="310.88" cy="168.15" r="0.55"/><circle cx="311.67" cy="168.21" r="0.55"/><circle cx="312.46" cy="168.14" r="0.55"/><circle cx="313.26" cy="168.11" r="0.55"/><circle cx="314.05" cy="168.32" r="0.55"/><circle cx="314.84" cy="168.31" r="0.55"/><circle cx="315.63" cy="168.25" r="0.55"/><circle cx="316.42" cy="168.34" r="0.55"/><circle cx="317.22" cy="168.33" r="0.55"/><circle cx="318.01" cy="168.08" r="0.55"/><circle cx="318.8" cy="168.07" r="0.55"/><circle cx="319.59" cy="168.1" r="0.55"/><circle cx="320.38" cy="168.18" r="0.55"/><circle cx="321.18" cy="168.12" r="0.55"/><circle cx="321.97" cy="168.06" r="0.55"/><circle cx="251.17" cy="169.4" r="0.55"/><circle cx="251.97" cy="169.41" r="0.55"/><circle cx="252.77" cy="169.37" r="0.55"/><circle cx="253.57" cy="169.32" r="0.55"/><circle cx="254.37" cy="169.34" r="0.55"/><circle cx="255.17" cy="169.39" r="0.55"/><circle cx="255.97" cy="169.33" r="0.55"/><circle cx="256.77" cy="169.16" r="0.55"/><circle cx="257.57" cy="169.27" r="0.55"/><circle cx="258.37" cy="169.23" r="0.55"/><circle cx="259.17" cy="169.4" r="0.55"/><circle cx="259.97" cy="169.4" r="0.55"/><circle cx="260.77" cy="169.31" r="0.55"/><circle cx="261.57" cy="169.42" r="0.55"/><circle cx="262.37" cy="169.15" r="0.55"/><circle cx="263.17" cy="169.28" r="0.55"/><circle cx="263.97" cy="169.22" r="0.55"/><circle cx="264.77" cy="169.37" r="0.55"/><circle cx="265.57" cy="169.26" r="0.55"/><circle cx="266.37" cy="169.44" r="0.55"/><circle cx="313.61" cy="169.19" r="0.55"/><circle cx="314.41" cy="169.25" r="0.55"/><circle cx="315.21" cy="169.27" r="0.55"/><circle cx="316.01" cy="169.23" r="0.55"/><circle cx="316.81" cy="169.37" r="0.55"/><circle cx="317.61" cy="169.27" r="0.55"/><circle cx="318.41" cy="169.16" r="0.55"/><circle cx="319.21" cy="169.33" r="0.55"/><circle cx="320.01" cy="169.4" r="0.55"/><circle cx="320.81" cy="169.24" r="0.55"/><circle cx="321.61" cy="169.25" r="0.55"/><circle cx="322.41" cy="169.28" r="0.55"/><circle cx="323.21" cy="169.21" r="0.55"/><circle cx="324.01" cy="169.34" r="0.55"/><circle cx="324.81" cy="169.27" r="0.55"/><circle cx="325.61" cy="169.16" r="0.55"/><circle cx="326.41" cy="169.26" r="0.55"/><circle cx="327.21" cy="169.26" r="0.55"/><circle cx="328.01" cy="169.18" r="0.55"/><circle cx="328.81" cy="169.4" r="0.55"/><circle cx="263.29" cy="170.47" r="0.55"/><circle cx="264.08" cy="170.36" r="0.55"/><circle cx="264.86" cy="170.49" r="0.55"/><circle cx="265.64" cy="170.25" r="0.55"/><circle cx="266.43" cy="170.48" r="0.55"/><circle cx="267.21" cy="170.29" r="0.55"/><circle cx="267.99" cy="170.31" r="0.55"/><circle cx="268.78" cy="170.41" r="0.55"/><circle cx="269.56" cy="170.28" r="0.55"/><circle cx="270.34" cy="170.28" r="0.55"/><circle cx="271.13" cy="170.44" r="0.55"/><circle cx="271.91" cy="170.36" r="0.55"/><circle cx="308.3" cy="170.41" r="0.55"/><circle cx="309.08" cy="170.47" r="0.55"/><circle cx="309.87" cy="170.51" r="0.55"/><circle cx="310.65" cy="170.53" r="0.55"/><circle cx="311.43" cy="170.53" r="0.55"/><circle cx="312.22" cy="170.53" r="0.55"/><circle cx="313" cy="170.26" r="0.55"/><circle cx="313.78" cy="170.46" r="0.55"/><circle cx="314.57" cy="170.25" r="0.55"/><circle cx="315.35" cy="170.52" r="0.55"/><circle cx="316.13" cy="170.28" r="0.55"/><circle cx="316.92" cy="170.38" r="0.55"/><circle cx="263.16" cy="171.42" r="0.55"/><circle cx="264.01" cy="171.41" r="0.55"/><circle cx="264.85" cy="171.37" r="0.55"/><circle cx="265.7" cy="171.52" r="0.55"/><circle cx="266.55" cy="171.45" r="0.55"/><circle cx="267.4" cy="171.63" r="0.55"/><circle cx="268.24" cy="171.36" r="0.55"/><circle cx="269.09" cy="171.6" r="0.55"/><circle cx="269.94" cy="171.6" r="0.55"/><circle cx="310.51" cy="171.6" r="0.55"/><circle cx="311.36" cy="171.63" r="0.55"/><circle cx="312.21" cy="171.53" r="0.55"/><circle cx="313.05" cy="171.6" r="0.55"/><circle cx="313.9" cy="171.55" r="0.55"/><circle cx="314.75" cy="171.51" r="0.55"/><circle cx="315.6" cy="171.62" r="0.55"/><circle cx="316.44" cy="171.57" r="0.55"/><circle cx="317.29" cy="171.5" r="0.55"/><circle cx="271.45" cy="172.73" r="0.55"/><circle cx="272.29" cy="172.52" r="0.55"/><circle cx="273.13" cy="172.69" r="0.55"/><circle cx="273.97" cy="172.57" r="0.55"/><circle cx="274.81" cy="172.66" r="0.55"/><circle cx="304.15" cy="172.46" r="0.55"/><circle cx="304.99" cy="172.48" r="0.55"/><circle cx="305.83" cy="172.47" r="0.55"/><circle cx="306.67" cy="172.67" r="0.55"/><circle cx="307.51" cy="172.58" r="0.55"/><circle cx="270.57" cy="173.93" r="0.55"/><circle cx="271.4" cy="173.77" r="0.55"/><circle cx="272.22" cy="173.84" r="0.55"/><circle cx="273.04" cy="173.71" r="0.55"/><circle cx="304.71" cy="173.87" r="0.55"/><circle cx="305.54" cy="173.72" r="0.55"/><circle cx="306.36" cy="173.84" r="0.55"/><circle cx="307.18" cy="173.66" r="0.55"/><circle cx="278.07" cy="175.11" r="0.55"/><circle cx="278.63" cy="175.05" r="0.55"/><circle cx="298.4" cy="174.93" r="0.55"/><circle cx="298.96" cy="175.13" r="0.55"/></g><g fill="#f43a40" stroke="#dc252b" stroke-width="0.3"><circle cx="295.24" cy="169.35" r="0.85"/><circle cx="293.88" cy="173.57" r="0.85"/><circle cx="280.87" cy="176.37" r="0.85"/><circle cx="288.84" cy="171.3" r="0.85"/><circle cx="286.49" cy="179.45" r="0.85"/><circle cx="290.12" cy="169.16" r="0.85"/><circle cx="288.54" cy="216.48" r="0.65"/><circle cx="278.23" cy="166.82" r="0.85"/><circle cx="288.94" cy="210.64" r="0.65"/><circle cx="309.52" cy="167" r="0.85"/><circle cx="289.62" cy="168.2" r="0.85"/><circle cx="294.52" cy="168.22" r="0.85"/><circle cx="302.35" cy="172.33" r="0.85"/><circle cx="292.37" cy="175.02" r="0.85"/><circle cx="291.43" cy="167.14" r="0.85"/><circle cx="314.9" cy="167.04" r="0.85"/><circle cx="287.98" cy="181.25" r="0.65"/><circle cx="296.03" cy="168.01" r="0.85"/><circle cx="291.38" cy="220.33" r="0.85"/><circle cx="303.69" cy="170.42" r="0.85"/><circle cx="291.05" cy="176.38" r="0.85"/><circle cx="270.7" cy="169.04" r="0.85"/><circle cx="287.48" cy="210.7" r="0.65"/><circle cx="295.44" cy="174.01" r="0.85"/><circle cx="275.32" cy="172.73" r="0.85"/><circle cx="288.61" cy="177.12" r="0.85"/><circle cx="281.71" cy="168.06" r="0.85"/><circle cx="319.91" cy="167.04" r="0.85"/><circle cx="289.21" cy="223.9" r="0.65"/><circle cx="317.46" cy="167.32" r="0.85"/><circle cx="299.79" cy="168.39" r="0.85"/><circle cx="289.34" cy="196.58" r="0.65"/><circle cx="295.13" cy="174.87" r="0.85"/><circle cx="265.18" cy="167.36" r="0.85"/><circle cx="289.7" cy="178.61" r="0.85"/><circle cx="301.52" cy="169.12" r="0.85"/><circle cx="290.22" cy="210.31" r="0.65"/><circle cx="280.28" cy="172.39" r="0.85"/><circle cx="291.56" cy="173.67" r="0.85"/><circle cx="290.56" cy="214.3" r="0.65"/><circle cx="277.19" cy="169.45" r="0.85"/><circle cx="301.85" cy="173.57" r="0.85"/><circle cx="280.23" cy="170.48" r="0.85"/><circle cx="279.57" cy="176.45" r="0.85"/><circle cx="285.87" cy="166.98" r="0.85"/><circle cx="289.63" cy="207.26" r="0.65"/><circle cx="298.92" cy="173.54" r="0.85"/><circle cx="287.03" cy="178.71" r="0.85"/><circle cx="299.45" cy="171.52" r="0.85"/><circle cx="289.52" cy="172.64" r="0.85"/><circle cx="303.23" cy="171.27" r="0.85"/><circle cx="277.79" cy="170.48" r="0.85"/><circle cx="303.09" cy="173.86" r="0.85"/><circle cx="294.22" cy="220.16" r="0.85"/><circle cx="289.05" cy="179.45" r="0.85"/><circle cx="282.26" cy="167.39" r="0.85"/><circle cx="287.02" cy="172.46" r="0.85"/><circle cx="289.26" cy="202.2" r="0.65"/><circle cx="302.6" cy="170.45" r="0.85"/><circle cx="287.41" cy="189.38" r="0.65"/><circle cx="283.36" cy="178.6" r="0.85"/><circle cx="271.54" cy="168.3" r="0.85"/><circle cx="306.75" cy="169.58" r="0.85"/><circle cx="300.32" cy="169.02" r="0.85"/><circle cx="287.81" cy="196.78" r="0.65"/><circle cx="289.2" cy="214.46" r="0.65"/><circle cx="288.78" cy="189.25" r="0.65"/><circle cx="288.21" cy="183.3" r="0.65"/><circle cx="291.67" cy="218.29" r="0.65"/><circle cx="294.33" cy="212.82" r="0.85"/><circle cx="309.94" cy="171.49" r="0.85"/><circle cx="273.17" cy="171.32" r="0.85"/><circle cx="294.96" cy="177.47" r="0.85"/><circle cx="289.21" cy="186.62" r="0.65"/><circle cx="266.48" cy="167.22" r="0.85"/><circle cx="294.54" cy="178.76" r="0.85"/><circle cx="289.3" cy="192.09" r="0.65"/><circle cx="296.7" cy="167.13" r="0.85"/><circle cx="297.01" cy="172.7" r="0.85"/><circle cx="291.64" cy="183.37" r="0.65"/><circle cx="276.92" cy="171.35" r="0.85"/><circle cx="289.92" cy="199.86" r="0.65"/><circle cx="282.12" cy="177.63" r="0.85"/><circle cx="291.37" cy="210.36" r="0.65"/><circle cx="293.25" cy="170.36" r="0.85"/><circle cx="287.01" cy="183.33" r="0.65"/><circle cx="288.71" cy="209.58" r="0.65"/><circle cx="288.96" cy="225.58" r="0.65"/><circle cx="283.55" cy="177.66" r="0.85"/><circle cx="289.47" cy="219.34" r="0.65"/><circle cx="292.36" cy="177.1" r="0.85"/><circle cx="286.51" cy="185.29" r="0.65"/><circle cx="285.29" cy="220.49" r="0.85"/><circle cx="301.09" cy="172.81" r="0.85"/><circle cx="287.17" cy="176.1" r="0.85"/><circle cx="283.19" cy="167.91" r="0.85"/><circle cx="300.86" cy="171.26" r="0.85"/><circle cx="284.34" cy="168.08" r="0.85"/><circle cx="300.37" cy="173.61" r="0.85"/><circle cx="277.86" cy="168.19" r="0.85"/><circle cx="289.76" cy="209.57" r="0.65"/><circle cx="310.72" cy="169.17" r="0.85"/><circle cx="274.16" cy="167.08" r="0.85"/><circle cx="306.23" cy="171.69" r="0.85"/><circle cx="273.34" cy="169.15" r="0.85"/><circle cx="288.32" cy="168.34" r="0.85"/><circle cx="292.19" cy="168.38" r="0.85"/><circle cx="281.8" cy="172.37" r="0.85"/><circle cx="292.58" cy="173.51" r="0.85"/><circle cx="301.22" cy="168.41" r="0.85"/><circle cx="297.32" cy="168.1" r="0.85"/><circle cx="283.76" cy="220.13" r="0.85"/><circle cx="284.89" cy="177.42" r="0.85"/><circle cx="286.81" cy="168.49" r="0.85"/><circle cx="282.15" cy="171.3" r="0.85"/><circle cx="297.54" cy="169.42" r="0.85"/><circle cx="285.92" cy="175.24" r="0.85"/><circle cx="289.23" cy="219.15" r="0.65"/><circle cx="261.33" cy="167.37" r="0.85"/><circle cx="289.92" cy="182.2" r="0.65"/><circle cx="283.41" cy="167.18" r="0.85"/><circle cx="281.28" cy="173.61" r="0.85"/><circle cx="290.21" cy="222.05" r="0.65"/><circle cx="287.44" cy="166.82" r="0.85"/><circle cx="284.78" cy="175.92" r="0.85"/><circle cx="298.93" cy="169.51" r="0.85"/><circle cx="292.9" cy="179.47" r="0.85"/><circle cx="291.03" cy="216.31" r="0.65"/><circle cx="299.75" cy="172.84" r="0.85"/><circle cx="289.96" cy="177.2" r="0.85"/><circle cx="305.22" cy="169.28" r="0.85"/><circle cx="290.29" cy="171.47" r="0.85"/><circle cx="287.74" cy="220.23" r="0.85"/><circle cx="292.76" cy="171.65" r="0.85"/><circle cx="290.99" cy="177.13" r="0.85"/><circle cx="301.81" cy="167.21" r="0.85"/><circle cx="294.77" cy="170.16" r="0.85"/><circle cx="307.35" cy="171.24" r="0.85"/><circle cx="275.94" cy="174.06" r="0.85"/><circle cx="302.04" cy="171.5" r="0.85"/><circle cx="308.87" cy="171.58" r="0.85"/><circle cx="267.59" cy="166.98" r="0.85"/><circle cx="298.29" cy="171.6" r="0.85"/><circle cx="308.07" cy="169.36" r="0.85"/><circle cx="283.44" cy="171.23" r="0.85"/><circle cx="276.63" cy="172.5" r="0.85"/><circle cx="304.47" cy="167.25" r="0.85"/><circle cx="302.73" cy="169.35" r="0.85"/><circle cx="303.6" cy="168.42" r="0.85"/><circle cx="285.72" cy="170.69" r="0.85"/><circle cx="296.11" cy="172.81" r="0.85"/><circle cx="293.29" cy="216.27" r="0.65"/><circle cx="291.94" cy="172.35" r="0.85"/><circle cx="304.14" cy="173.53" r="0.85"/><circle cx="258.5" cy="167.35" r="0.85"/><circle cx="278.34" cy="169.53" r="0.85"/><circle cx="283.92" cy="179.87" r="0.85"/><circle cx="289.16" cy="198.44" r="0.65"/><circle cx="283.28" cy="176.43" r="0.85"/><circle cx="276.2" cy="170.47" r="0.85"/><circle cx="292.2" cy="178.86" r="0.85"/><circle cx="275.68" cy="167.09" r="0.85"/><circle cx="279.58" cy="167.16" r="0.85"/><circle cx="292.47" cy="166.93" r="0.85"/><circle cx="290" cy="175.17" r="0.85"/><circle cx="286.5" cy="214.48" r="0.65"/><circle cx="292.1" cy="170.54" r="0.85"/><circle cx="280.88" cy="169.03" r="0.85"/><circle cx="291.25" cy="169.07" r="0.85"/><circle cx="278.41" cy="171.69" r="0.85"/><circle cx="281.97" cy="178.61" r="0.85"/><circle cx="287.52" cy="217.83" r="0.65"/><circle cx="298.56" cy="170.18" r="0.85"/><circle cx="288.78" cy="169.11" r="0.85"/><circle cx="289.49" cy="211.71" r="0.65"/><circle cx="307.4" cy="168.22" r="0.85"/><circle cx="310.89" cy="167.33" r="0.85"/><circle cx="273.89" cy="168.11" r="0.85"/><circle cx="293.57" cy="177.29" r="0.85"/><circle cx="285.98" cy="169.34" r="0.85"/><circle cx="293.99" cy="166.87" r="0.85"/><circle cx="289.51" cy="198.33" r="0.65"/><circle cx="284.86" cy="166.85" r="0.85"/><circle cx="291.52" cy="212.82" r="0.85"/><circle cx="297.75" cy="166.91" r="0.85"/><circle cx="297.78" cy="174.96" r="0.85"/><circle cx="287.89" cy="179.92" r="0.85"/><circle cx="287.32" cy="177.61" r="0.85"/><circle cx="270.36" cy="167.27" r="0.85"/><circle cx="297.16" cy="176.19" r="0.85"/><circle cx="287.64" cy="209.05" r="0.65"/><circle cx="288.47" cy="175" r="0.85"/><circle cx="287.71" cy="212.8" r="0.85"/><circle cx="292.16" cy="214.25" r="0.65"/><circle cx="291.65" cy="179.45" r="0.85"/><circle cx="309.08" cy="169.13" r="0.85"/><circle cx="293.58" cy="175.94" r="0.85"/><circle cx="311.77" cy="169.2" r="0.85"/><circle cx="295.37" cy="171.54" r="0.85"/><circle cx="271.73" cy="171.8" r="0.85"/><circle cx="304.04" cy="169.41" r="0.85"/><circle cx="289.81" cy="167.3" r="0.85"/><circle cx="313.09" cy="169.24" r="0.85"/><circle cx="275.98" cy="169.4" r="0.85"/><circle cx="277.2" cy="174.08" r="0.85"/><circle cx="269.07" cy="167.32" r="0.85"/><circle cx="286.04" cy="176.19" r="0.85"/><circle cx="293.93" cy="169.17" r="0.85"/><circle cx="288.17" cy="170.4" r="0.85"/><circle cx="286.37" cy="173.8" r="0.85"/><circle cx="275.14" cy="170.63" r="0.85"/><circle cx="292.07" cy="176.33" r="0.85"/><circle cx="280.1" cy="173.91" r="0.85"/><circle cx="318.55" cy="166.82" r="0.85"/><circle cx="293.93" cy="175.09" r="0.85"/><circle cx="290.67" cy="178.74" r="0.85"/><circle cx="284.91" cy="212.81" r="0.85"/><circle cx="270.07" cy="167.91" r="0.85"/><circle cx="279.18" cy="168.37" r="0.85"/><circle cx="289.03" cy="183.45" r="0.65"/><circle cx="285.25" cy="179.82" r="0.85"/><circle cx="303.56" cy="172.38" r="0.85"/><circle cx="279.75" cy="169.27" r="0.85"/><circle cx="298.39" cy="172.69" r="0.85"/><circle cx="290.04" cy="194.92" r="0.65"/><circle cx="283.11" cy="172.84" r="0.85"/><circle cx="288.64" cy="167.18" r="0.85"/><circle cx="262.56" cy="166.85" r="0.85"/><circle cx="291.97" cy="196.85" r="0.65"/><circle cx="286.07" cy="212.77" r="0.85"/><circle cx="307.08" cy="167.36" r="0.85"/><circle cx="322.83" cy="167.24" r="0.85"/><circle cx="288.11" cy="178.83" r="0.85"/><circle cx="272.2" cy="169.05" r="0.85"/><circle cx="302.21" cy="168.2" r="0.85"/><circle cx="304.86" cy="167.98" r="0.85"/><circle cx="285" cy="173.76" r="0.85"/><circle cx="284.45" cy="172.77" r="0.85"/><circle cx="290.65" cy="170.46" r="0.85"/><circle cx="288.76" cy="212.52" r="0.85"/><circle cx="287.46" cy="171.35" r="0.85"/><circle cx="259.81" cy="167.17" r="0.85"/><circle cx="288.23" cy="184.89" r="0.65"/><circle cx="283.67" cy="173.54" r="0.85"/><circle cx="306.13" cy="168.29" r="0.85"/><circle cx="279.02" cy="174.76" r="0.85"/><circle cx="266.94" cy="169.55" r="0.85"/><circle cx="274.89" cy="173.91" r="0.85"/><circle cx="286.96" cy="170.43" r="0.85"/><circle cx="285.65" cy="172.43" r="0.85"/><circle cx="296.7" cy="171.29" r="0.85"/><circle cx="292.45" cy="185.02" r="0.65"/><circle cx="289.74" cy="180.74" r="0.65"/><circle cx="257.27" cy="167.01" r="0.85"/><circle cx="289.08" cy="220.3" r="0.85"/><circle cx="273.74" cy="170.34" r="0.85"/><circle cx="294.04" cy="171.71" r="0.85"/><circle cx="297.12" cy="170.65" r="0.85"/><circle cx="289.55" cy="204.92" r="0.65"/><circle cx="273.65" cy="173.84" r="0.85"/><circle cx="290.41" cy="179.9" r="0.85"/><circle cx="279.58" cy="171.32" r="0.85"/><circle cx="289.49" cy="170.43" r="0.85"/><circle cx="300.35" cy="166.96" r="0.85"/><circle cx="278.63" cy="173.6" r="0.85"/><circle cx="280.6" cy="174.7" r="0.85"/><circle cx="282.23" cy="176.44" r="0.85"/><circle cx="308.31" cy="167.14" r="0.85"/><circle cx="284.19" cy="170.6" r="0.85"/><circle cx="287.62" cy="173.63" r="0.85"/><circle cx="291.98" cy="216.27" r="0.65"/><circle cx="284.46" cy="178.56" r="0.85"/><circle cx="289.64" cy="176" r="0.85"/><circle cx="321.54" cy="166.91" r="0.85"/><circle cx="284.78" cy="169.43" r="0.85"/><circle cx="263.8" cy="166.9" r="0.85"/><circle cx="275.37" cy="167.95" r="0.85"/><circle cx="288.93" cy="190.51" r="0.65"/><circle cx="298.47" cy="176.02" r="0.85"/><circle cx="290.05" cy="223.99" r="0.65"/><circle cx="290.2" cy="192.16" r="0.65"/><circle cx="290.64" cy="172.53" r="0.85"/><circle cx="288.95" cy="217.9" r="0.65"/><circle cx="268.17" cy="169.47" r="0.85"/><circle cx="282.98" cy="170.16" r="0.85"/><circle cx="304.55" cy="171.38" r="0.85"/><circle cx="280.96" cy="167.27" r="0.85"/><circle cx="287.32" cy="216.52" r="0.65"/><circle cx="305.86" cy="167.37" r="0.85"/><circle cx="312.09" cy="167.05" r="0.85"/><circle cx="292.8" cy="220.19" r="0.85"/><circle cx="256.15" cy="166.91" r="0.85"/><circle cx="296.63" cy="174.78" r="0.85"/><circle cx="303.11" cy="166.81" r="0.85"/><circle cx="280.63" cy="168.39" r="0.85"/><circle cx="296.47" cy="173.93" r="0.85"/><circle cx="293.14" cy="178.66" r="0.85"/><circle cx="288.73" cy="221.75" r="0.65"/><circle cx="289.35" cy="202.55" r="0.65"/><circle cx="294.21" cy="179.47" r="0.85"/><circle cx="296.5" cy="169.08" r="0.85"/><circle cx="293.19" cy="172.75" r="0.85"/><circle cx="289.8" cy="216.53" r="0.65"/><circle cx="281.66" cy="175.09" r="0.85"/><circle cx="286.11" cy="171.79" r="0.85"/><circle cx="285.01" cy="171.38" r="0.85"/><circle cx="286.97" cy="221.8" r="0.65"/><circle cx="287.01" cy="175.06" r="0.85"/><circle cx="274.4" cy="169.52" r="0.85"/><circle cx="290.24" cy="173.96" r="0.85"/><circle cx="286.49" cy="196.58" r="0.65"/><circle cx="287.84" cy="214.44" r="0.65"/><circle cx="307.75" cy="170.12" r="0.85"/><circle cx="290.86" cy="168.45" r="0.85"/><circle cx="289.54" cy="192.88" r="0.65"/><circle cx="289.34" cy="185.08" r="0.65"/><circle cx="269.26" cy="169.29" r="0.85"/><circle cx="294.64" cy="172.31" r="0.85"/><circle cx="289.93" cy="190.64" r="0.65"/><circle cx="272.49" cy="170.23" r="0.85"/><circle cx="290.75" cy="196.81" r="0.65"/><circle cx="284.52" cy="174.92" r="0.85"/><circle cx="288.78" cy="174.06" r="0.85"/><circle cx="290.16" cy="212.62" r="0.85"/><circle cx="287.53" cy="169.34" r="0.85"/><circle cx="282.47" cy="169.24" r="0.85"/><circle cx="287.96" cy="192.17" r="0.65"/><circle cx="289.19" cy="194.69" r="0.65"/><circle cx="270.39" cy="171.45" r="0.85"/><circle cx="278.27" cy="176.31" r="0.85"/><circle cx="281.54" cy="170.64" r="0.85"/><circle cx="299.94" cy="170.29" r="0.85"/><circle cx="276.69" cy="167.17" r="0.85"/><circle cx="285.54" cy="168.21" r="0.85"/><circle cx="296.14" cy="175.97" r="0.85"/><circle cx="293.52" cy="167.91" r="0.85"/><circle cx="288.74" cy="193.38" r="0.65"/><circle cx="291.09" cy="185.11" r="0.65"/><circle cx="286.44" cy="220.3" r="0.85"/><circle cx="316.22" cy="166.85" r="0.85"/><circle cx="286.07" cy="177.49" r="0.85"/><circle cx="274.55" cy="171.6" r="0.85"/><circle cx="298.47" cy="168.34" r="0.85"/><circle cx="292.53" cy="169.53" r="0.85"/><circle cx="296.17" cy="170.51" r="0.85"/><circle cx="277.76" cy="172.42" r="0.85"/><circle cx="272.78" cy="168.29" r="0.85"/><circle cx="289.77" cy="182.52" r="0.65"/><circle cx="288.89" cy="207.48" r="0.65"/><circle cx="289.25" cy="211.84" r="0.65"/><circle cx="271.6" cy="167" r="0.85"/><circle cx="288.37" cy="172.87" r="0.85"/><circle cx="297.96" cy="173.97" r="0.85"/><circle cx="289.48" cy="225.4" r="0.65"/><circle cx="283.11" cy="174.89" r="0.85"/><circle cx="305" cy="170.54" r="0.85"/><circle cx="282.34" cy="173.96" r="0.85"/><circle cx="289.33" cy="186.79" r="0.65"/><circle cx="288.38" cy="175.99" r="0.85"/><circle cx="291.36" cy="222.03" r="0.65"/><circle cx="290.6" cy="188.8" r="0.65"/><circle cx="291.64" cy="171.45" r="0.85"/><circle cx="301.35" cy="170.64" r="0.85"/><circle cx="308.61" cy="168.11" r="0.85"/><circle cx="295.24" cy="167.01" r="0.85"/><circle cx="298.96" cy="167.2" r="0.85"/><circle cx="279.21" cy="172.67" r="0.85"/><circle cx="313.6" cy="167.11" r="0.85"/><circle cx="275.79" cy="171.65" r="0.85"/><circle cx="281.2" cy="171.25" r="0.85"/><circle cx="276.38" cy="168.27" r="0.85"/><circle cx="290.11" cy="220.34" r="0.85"/><circle cx="283.4" cy="169.47" r="0.85"/><circle cx="292.72" cy="212.87" r="0.85"/><circle cx="285.91" cy="216.33" r="0.65"/><circle cx="273.09" cy="167.13" r="0.85"/><circle cx="295.43" cy="220.6" r="0.85"/><circle cx="291.12" cy="174.93" r="0.85"/><circle cx="306.6" cy="170.26" r="0.85"/><circle cx="290.48" cy="183.23" r="0.65"/><circle cx="285.82" cy="178.72" r="0.85"/><circle cx="294.78" cy="175.99" r="0.85"/><circle cx="290" cy="218.26" r="0.65"/><circle cx="278.86" cy="170.69" r="0.85"/><circle cx="288.98" cy="199.98" r="0.65"/><circle cx="289.2" cy="204.71" r="0.65"/></g><g fill="#ff8f8f"><circle cx="247.58" cy="166.68" r="0.3"/><circle cx="294.1" cy="167.2" r="0.33"/><circle cx="319.66" cy="167.01" r="0.33"/><circle cx="297.04" cy="166.86" r="0.35"/><circle cx="263" cy="167.39" r="0.32"/><circle cx="265.32" cy="166.74" r="0.47"/><circle cx="305.36" cy="167.03" r="0.34"/><circle cx="245.68" cy="167.53" r="0.45"/><circle cx="249.33" cy="167.24" r="0.51"/><circle cx="262.35" cy="167.54" r="0.34"/><circle cx="283.79" cy="167.04" r="0.54"/><circle cx="287.46" cy="167.34" r="0.48"/><circle cx="269.51" cy="167.06" r="0.42"/><circle cx="273.94" cy="166.8" r="0.34"/><circle cx="333.63" cy="167.53" r="0.34"/><circle cx="334.08" cy="166.94" r="0.49"/><circle cx="286.31" cy="167.07" r="0.41"/><circle cx="254.77" cy="168.22" r="0.36"/><circle cx="320.74" cy="168.33" r="0.37"/><circle cx="314.58" cy="168.28" r="0.46"/><circle cx="307.13" cy="168.43" r="0.35"/><circle cx="316.89" cy="168.44" r="0.49"/><circle cx="307.62" cy="167.93" r="0.55"/><circle cx="306.39" cy="168.62" r="0.37"/><circle cx="275.13" cy="168.58" r="0.55"/><circle cx="304.27" cy="167.85" r="0.37"/><circle cx="292.68" cy="167.71" r="0.38"/><circle cx="294.44" cy="168.63" r="0.47"/><circle cx="318.68" cy="167.91" r="0.52"/><circle cx="268.56" cy="167.95" r="0.46"/><circle cx="273.67" cy="168.81" r="0.48"/><circle cx="262.13" cy="169.44" r="0.33"/><circle cx="290.4" cy="169.7" r="0.4"/><circle cx="271.07" cy="169.69" r="0.53"/><circle cx="288.37" cy="169.54" r="0.36"/><circle cx="259.26" cy="169.02" r="0.45"/><circle cx="308.19" cy="168.94" r="0.34"/><circle cx="277.05" cy="169.06" r="0.39"/><circle cx="305.96" cy="169.16" r="0.49"/><circle cx="299.82" cy="169.71" r="0.45"/><circle cx="320.23" cy="169.17" r="0.44"/><circle cx="270.79" cy="169" r="0.39"/><circle cx="309.23" cy="170.8" r="0.41"/><circle cx="281.95" cy="170.23" r="0.44"/><circle cx="287.79" cy="170.89" r="0.47"/><circle cx="282.38" cy="170.46" r="0.42"/><circle cx="314.99" cy="170.08" r="0.5"/><circle cx="278.21" cy="170.29" r="0.31"/><circle cx="276.41" cy="170.22" r="0.37"/><circle cx="297.26" cy="170.02" r="0.38"/><circle cx="292.33" cy="170.43" r="0.45"/><circle cx="272.23" cy="170.16" r="0.49"/><circle cx="311.97" cy="171.17" r="0.32"/><circle cx="307.03" cy="172" r="0.4"/><circle cx="310.75" cy="171.59" r="0.53"/><circle cx="269.51" cy="171.02" r="0.51"/><circle cx="288.53" cy="171.11" r="0.49"/><circle cx="267.66" cy="171.19" r="0.49"/><circle cx="300.86" cy="171.51" r="0.45"/><circle cx="294.26" cy="171.26" r="0.39"/><circle cx="294.08" cy="172.33" r="0.5"/><circle cx="305.17" cy="172.73" r="0.34"/><circle cx="281.38" cy="172.69" r="0.41"/><circle cx="285.5" cy="172.12" r="0.4"/><circle cx="284.79" cy="172.21" r="0.55"/><circle cx="299.8" cy="173.07" r="0.36"/><circle cx="296.35" cy="172.82" r="0.36"/><circle cx="291.88" cy="174.02" r="0.45"/><circle cx="290.38" cy="173.55" r="0.37"/><circle cx="283.56" cy="173.8" r="0.4"/><circle cx="280.07" cy="173.36" r="0.55"/><circle cx="284.65" cy="174.19" r="0.52"/><circle cx="280.67" cy="174.69" r="0.36"/><circle cx="276.97" cy="174.72" r="0.45"/><circle cx="293.16" cy="174.67" r="0.43"/><circle cx="291.82" cy="175.22" r="0.47"/><circle cx="293.22" cy="175.79" r="0.33"/><circle cx="292.64" cy="176.15" r="0.48"/><circle cx="292.68" cy="176.47" r="0.48"/><circle cx="287.42" cy="177.8" r="0.47"/><circle cx="288.24" cy="177.72" r="0.39"/><circle cx="286.95" cy="178.69" r="0.55"/><circle cx="285.16" cy="178.39" r="0.33"/><circle cx="290.44" cy="179.68" r="0.42"/><circle cx="288.7" cy="184.87" r="0.45"/><circle cx="287.59" cy="196.58" r="0.34"/><circle cx="289.59" cy="212.8" r="0.4"/><circle cx="288.47" cy="214.8" r="0.36"/><circle cx="289.7" cy="216.77" r="0.39"/><circle cx="288.67" cy="220.48" r="0.42"/></g>
<line x1="76.5" y1="224.53" x2="78.3" y2="224.53" stroke="#888" stroke-width="0.6"/>
<text x="75.7" y="227.23" text-anchor="end" class="lc">25</text>
<line x1="76.5" y1="205.02" x2="78.3" y2="205.02" stroke="#888" stroke-width="0.6"/>
<text x="75.7" y="207.72" text-anchor="end" class="lc">50</text>
<line x1="76.5" y1="185.51" x2="78.3" y2="185.51" stroke="#888" stroke-width="0.6"/>
<text x="75.7" y="188.21" text-anchor="end" class="lc">75</text>
<line x1="76.5" y1="166" x2="78.3" y2="166" stroke="#888" stroke-width="0.6"/>
<text x="75.7" y="168.7" text-anchor="end" class="lc">100</text>
<line x1="148.7" y1="231.5" x2="148.7" y2="233.3" stroke="#888" stroke-width="0.6"/>
<text x="148.7" y="239" text-anchor="middle" class="lc">benign</text>
<line x1="289.6" y1="231.5" x2="289.6" y2="233.3" stroke="#888" stroke-width="0.6"/>
<text x="289.6" y="239" text-anchor="middle" class="lc">pathogenic</text>
<text transform="translate(59.1,197.2) rotate(-90)" text-anchor="middle" class="lc" style="font-size:7.05px">pLDDT score</text>
<text x="43.6" y="159.8" class="pl">D</text>
</svg></body></html>
